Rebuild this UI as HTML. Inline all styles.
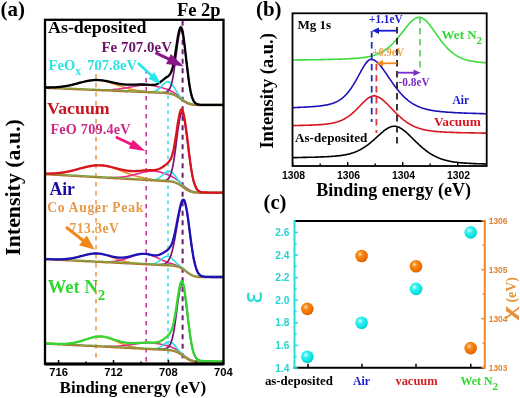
<!DOCTYPE html>
<html><head><meta charset="utf-8"><style>html,body{margin:0;padding:0;background:#fff;}svg{display:block}</style></head>
<body>
<svg width="520" height="398" viewBox="0 0 520 398">
<rect width="520" height="398" fill="#fff"/>
<defs><radialGradient id="go" cx="0.38" cy="0.35" r="0.7"><stop offset="0" stop-color="#ffe2c0"/><stop offset="0.3" stop-color="#f88a14"/><stop offset="0.8" stop-color="#ec6c00"/><stop offset="1" stop-color="#c85800"/></radialGradient><radialGradient id="gc" cx="0.38" cy="0.35" r="0.7"><stop offset="0" stop-color="#e0ffff"/><stop offset="0.3" stop-color="#3cf0f0"/><stop offset="0.8" stop-color="#00e0e0"/><stop offset="1" stop-color="#00c0c0"/></radialGradient></defs>
<line x1="96.00" y1="65.00" x2="96.00" y2="363.00" stroke="#e8923a" stroke-width="1.4" stroke-dasharray="4.5,4.5"/>
<line x1="146.20" y1="69.00" x2="146.20" y2="363.00" stroke="#c8379a" stroke-width="1.6" stroke-dasharray="4.5,4.5"/>
<line x1="168.00" y1="88.00" x2="168.00" y2="363.00" stroke="#40dede" stroke-width="1.6" stroke-dasharray="3.5,4"/>
<line x1="182.60" y1="20.80" x2="182.60" y2="363.00" stroke="#6a1a6a" stroke-width="2.0" stroke-dasharray="5,4.5"/>
<path d="M46.0,87.5 46.7,87.5 47.4,87.5 48.1,87.5 48.8,87.5 49.5,87.5 50.3,87.5 51.0,87.4 51.7,87.4 52.4,87.4 53.1,87.4 53.8,87.4 54.5,87.3 55.2,87.3 55.9,87.2 56.6,87.2 57.3,87.1 58.1,87.1 58.8,87.0 59.5,87.0 60.2,86.9 60.9,86.8 61.6,86.7 62.3,86.6 63.0,86.5 63.7,86.4 64.4,86.3 65.1,86.2 65.8,86.1 66.6,86.0 67.3,85.8 68.0,85.7 68.7,85.6 69.4,85.4 70.1,85.3 70.8,85.1 71.5,84.9 72.2,84.8 72.9,84.6 73.6,84.4 74.4,84.2 75.1,84.1 75.8,83.9 76.5,83.7 77.2,83.5 77.9,83.3 78.6,83.1 79.3,82.9 80.0,82.7 80.7,82.6 81.4,82.4 82.2,82.2 82.9,82.0 83.6,81.8 84.3,81.7 85.0,81.5 85.7,81.3 86.4,81.2 87.1,81.0 87.8,80.9 88.5,80.8 89.2,80.7 89.9,80.6 90.7,80.5 91.4,80.4 92.1,80.3 92.8,80.2 93.5,80.2 94.2,80.1 94.9,80.1 95.6,80.1 96.3,80.1 97.0,80.1 97.7,80.2 98.5,80.2 99.2,80.2 99.9,80.3 100.6,80.4 101.3,80.5 102.0,80.6 102.7,80.7 103.4,80.8 104.1,81.0 104.8,81.1 105.5,81.3 106.3,81.5 107.0,81.7 107.7,81.8 108.4,82.0 109.1,82.3 109.8,82.5 110.5,82.7 111.2,82.9 111.9,83.2 112.6,83.4 113.3,83.6 114.0,83.9 114.8,84.1 115.5,84.4 116.2,84.6 116.9,84.9 117.6,85.1 118.3,85.4 119.0,85.6 119.7,85.9 120.4,86.1 121.1,86.3 121.8,86.6 122.6,86.8 123.3,87.0 124.0,87.3 124.7,87.5 125.4,87.7 126.1,87.9 126.8,88.1 127.5,88.3 128.2,88.5 128.9,88.7 129.6,88.9 130.4,89.1 131.1,89.2 131.8,89.4 132.5,89.5 133.2,89.7 133.9,89.8 134.6,90.0 135.3,90.1 136.0,90.2 136.7,90.4 137.4,90.5 138.1,90.6 138.9,90.7 139.6,90.8 140.3,90.9 141.0,91.0 141.7,91.1 142.4,91.2 143.1,91.3 143.8,91.3 144.5,91.4 145.2,91.5 145.9,91.6 146.7,91.6 147.4,91.7 148.1,91.8 148.8,91.8 149.5,91.9" fill="none" stroke="#f08a1e" stroke-width="1.6" stroke-linejoin="round" stroke-linecap="round" />
<path d="M102.0,89.9 102.7,89.9 103.4,89.9 104.1,89.9 104.8,89.9 105.5,89.9 106.3,89.9 107.0,89.8 107.7,89.8 108.4,89.8 109.1,89.8 109.8,89.8 110.5,89.7 111.2,89.7 111.9,89.7 112.6,89.6 113.3,89.6 114.0,89.5 114.8,89.4 115.5,89.4 116.2,89.3 116.9,89.2 117.6,89.2 118.3,89.1 119.0,89.0 119.7,88.9 120.4,88.8 121.1,88.7 121.8,88.6 122.6,88.5 123.3,88.3 124.0,88.2 124.7,88.1 125.4,88.0 126.1,87.8 126.8,87.7 127.5,87.6 128.2,87.4 128.9,87.3 129.6,87.1 130.4,87.0 131.1,86.9 131.8,86.7 132.5,86.6 133.2,86.4 133.9,86.3 134.6,86.2 135.3,86.1 136.0,85.9 136.7,85.8 137.4,85.7 138.1,85.6 138.9,85.5 139.6,85.4 140.3,85.3 141.0,85.3 141.7,85.2 142.4,85.1 143.1,85.1 143.8,85.1 144.5,85.0 145.2,85.0 145.9,85.0 146.7,85.1 147.4,85.1 148.1,85.1 148.8,85.2 149.5,85.2 150.2,85.3 150.9,85.4 151.6,85.5 152.3,85.6 153.0,85.7 153.7,85.8 154.5,85.9 155.2,86.1 155.9,86.2 156.6,86.4 157.3,86.5 158.0,86.7 158.7,86.9 159.4,87.1 160.1,87.2 160.8,87.4 161.5,87.6 162.2,87.8 163.0,88.1 163.7,88.3 164.4,88.5 165.1,88.7 165.8,88.9 166.5,89.2 167.2,89.4 167.9,89.7 168.6,90.0 169.3,90.2 170.0,90.5 170.8,90.9 171.5,91.2 172.2,91.6 172.9,92.0 173.6,92.4 174.3,92.8 175.0,93.3 175.7,93.8 176.4,94.3 177.1,94.8 177.8,95.4 178.6,96.0 179.3,96.5 180.0,97.1 180.7,97.7 181.4,98.3 182.1,98.9 182.8,99.5 183.5,100.0 184.2,100.6 184.9,101.1 185.6,101.5 186.3,101.9 187.1,102.3 187.8,102.7 188.5,103.0 189.2,103.3 189.9,103.6 190.6,103.8 191.3,104.0 192.0,104.2 192.7,104.3" fill="none" stroke="#e62a8c" stroke-width="1.6" stroke-linejoin="round" stroke-linecap="round" />
<path d="M150.9,91.9 151.6,91.9 152.3,91.8 153.0,91.7 153.7,91.5 154.5,91.3 155.2,91.1 155.9,90.8 156.6,90.5 157.3,90.0 158.0,89.5 158.7,89.0 159.4,88.4 160.1,87.7 160.8,87.0 161.5,86.3 162.2,85.5 163.0,84.8 163.7,84.1 164.4,83.5 165.1,82.9 165.8,82.4 166.5,82.1 167.2,81.9 167.9,81.8 168.6,81.9 169.3,82.2 170.0,82.7 170.8,83.2 171.5,83.9 172.2,84.8 172.9,85.7 173.6,86.7 174.3,87.8 175.0,88.9 175.7,90.1 176.4,91.2 177.1,92.3 177.8,93.4 178.6,94.5 179.3,95.5 180.0,96.4 180.7,97.3 181.4,98.1 182.1,98.9 182.8,99.6 183.5,100.3 184.2,100.9 184.9,101.4 185.6,101.9" fill="none" stroke="#2ee3e3" stroke-width="1.6" stroke-linejoin="round" stroke-linecap="round" />
<path d="M163.7,92.5 164.4,92.5 165.1,92.4 165.8,92.3 166.5,92.0 167.2,91.7 167.9,91.2 168.6,90.4 169.3,89.4 170.0,88.0 170.8,86.2 171.5,83.9 172.2,81.0 172.9,77.6 173.6,73.5 174.3,68.9 175.0,63.8 175.7,58.4 176.4,52.8 177.1,47.3 177.8,42.1 178.6,37.5 179.3,33.8 180.0,31.2 180.7,29.9 181.4,30.0 182.1,31.5 182.8,34.2 183.5,38.1 184.2,43.0 184.9,48.6 185.6,54.7 186.3,60.9 187.1,67.1 187.8,73.1 188.5,78.6 189.2,83.5 189.9,87.9 190.6,91.6 191.3,94.7 192.0,97.2 192.7,99.2 193.4,100.7 194.1,101.9 194.9,102.8 195.6,103.4 196.3,103.9 197.0,104.2 197.7,104.5 198.4,104.6 199.1,104.7" fill="none" stroke="#7c127c" stroke-width="1.7" stroke-linejoin="round" stroke-linecap="round" />
<path d="M46.0,88.3 46.7,88.4 47.4,88.4 48.1,88.4 48.8,88.5 49.5,88.5 50.3,88.5 51.0,88.6 51.7,88.6 52.4,88.6 53.1,88.6 53.8,88.7 54.5,88.7 55.2,88.7 55.9,88.8 56.6,88.8 57.3,88.8 58.1,88.9 58.8,88.9 59.5,88.9 60.2,88.9 60.9,89.0 61.6,89.0 62.3,89.0 63.0,89.1 63.7,89.1 64.4,89.1 65.1,89.2 65.8,89.2 66.6,89.2 67.3,89.2 68.0,89.3 68.7,89.3 69.4,89.3 70.1,89.4 70.8,89.4 71.5,89.4 72.2,89.5 72.9,89.5 73.6,89.5 74.4,89.5 75.1,89.6 75.8,89.6 76.5,89.6 77.2,89.7 77.9,89.7 78.6,89.7 79.3,89.8 80.0,89.8 80.7,89.8 81.4,89.8 82.2,89.9 82.9,89.9 83.6,89.9 84.3,90.0 85.0,90.0 85.7,90.0 86.4,90.1 87.1,90.1 87.8,90.1 88.5,90.1 89.2,90.2 89.9,90.2 90.7,90.2 91.4,90.3 92.1,90.3 92.8,90.3 93.5,90.3 94.2,90.4 94.9,90.4 95.6,90.4 96.3,90.5 97.0,90.5 97.7,90.5 98.5,90.6 99.2,90.6 99.9,90.6 100.6,90.6 101.3,90.7 102.0,90.7 102.7,90.7 103.4,90.8 104.1,90.8 104.8,90.8 105.5,90.9 106.3,90.9 107.0,90.9 107.7,90.9 108.4,91.0 109.1,91.0 109.8,91.0 110.5,91.1 111.2,91.1 111.9,91.1 112.6,91.2 113.3,91.2 114.0,91.2 114.8,91.2 115.5,91.3 116.2,91.3 116.9,91.3 117.6,91.4 118.3,91.4 119.0,91.4 119.7,91.5 120.4,91.5 121.1,91.5 121.8,91.5 122.6,91.6 123.3,91.6 124.0,91.6 124.7,91.7 125.4,91.7 126.1,91.7 126.8,91.8 127.5,91.8 128.2,91.8 128.9,91.8 129.6,91.9 130.4,91.9 131.1,91.9 131.8,92.0 132.5,92.0 133.2,92.0 133.9,92.1 134.6,92.1 135.3,92.1 136.0,92.1 136.7,92.2 137.4,92.2 138.1,92.2 138.9,92.3 139.6,92.3 140.3,92.3 141.0,92.4 141.7,92.4 142.4,92.4 143.1,92.4 143.8,92.5 144.5,92.5 145.2,92.5 145.9,92.6 146.7,92.6 147.4,92.6 148.1,92.7 148.8,92.7 149.5,92.7 150.2,92.7 150.9,92.8 151.6,92.8 152.3,92.8 153.0,92.9 153.7,92.9 154.5,92.9 155.2,93.0 155.9,93.0 156.6,93.0 157.3,93.0 158.0,93.1 158.7,93.1 159.4,93.1 160.1,93.2 160.8,93.2 161.5,93.2 162.2,93.3 163.0,93.3 163.7,93.4 164.4,93.4 165.1,93.5 165.8,93.5 166.5,93.6 167.2,93.7 167.9,93.8 168.6,93.9 169.3,94.0 170.0,94.1 170.8,94.3 171.5,94.5 172.2,94.7 172.9,94.9 173.6,95.2 174.3,95.5 175.0,95.9 175.7,96.2 176.4,96.6 177.1,97.0 177.8,97.5 178.6,98.0 179.3,98.4 180.0,98.9 180.7,99.5 181.4,100.0 182.1,100.5 182.8,101.0 183.5,101.4 184.2,101.9 184.9,102.3 185.6,102.7 186.3,103.1 187.1,103.5 187.8,103.8 188.5,104.1 189.2,104.3 189.9,104.5 190.6,104.7 191.3,104.9 192.0,105.0 192.7,105.1 193.4,105.2 194.1,105.3 194.9,105.4 195.6,105.4 196.3,105.4 197.0,105.5 197.7,105.5 198.4,105.5 199.1,105.5 199.8,105.5 200.5,105.5 201.2,105.6 201.9,105.6 202.7,105.6 203.4,105.6 204.1,105.6 204.8,105.6 205.5,105.6 206.2,105.6 206.9,105.6 207.6,105.6 208.3,105.6 209.0,105.6 209.7,105.6 210.4,105.6 211.2,105.6 211.9,105.6 212.6,105.6 213.3,105.6 214.0,105.6 214.7,105.6 215.4,105.6 216.1,105.6 216.8,105.6 217.5,105.6 218.2,105.6 219.0,105.6 219.7,105.6 220.4,105.6 221.1,105.6 221.8,105.6 222.5,105.6" fill="none" stroke="#b0762a" stroke-width="1.4" stroke-linejoin="round" stroke-linecap="round" />
<path d="M46.0,87.2 46.7,87.3 47.4,87.3 48.1,87.3 48.8,87.4 49.5,87.4 50.3,87.4 51.0,87.5 51.7,87.5 52.4,87.5 53.1,87.5 53.8,87.6 54.5,87.6 55.2,87.6 55.9,87.7 56.6,87.7 57.3,87.7 58.1,87.8 58.8,87.8 59.5,87.8 60.2,87.8 60.9,87.9 61.6,87.9 62.3,87.9 63.0,88.0 63.7,88.0 64.4,88.0 65.1,88.1 65.8,88.1 66.6,88.1 67.3,88.1 68.0,88.2 68.7,88.2 69.4,88.2 70.1,88.3 70.8,88.3 71.5,88.3 72.2,88.4 72.9,88.4 73.6,88.4 74.4,88.4 75.1,88.5 75.8,88.5 76.5,88.5 77.2,88.6 77.9,88.6 78.6,88.6 79.3,88.7 80.0,88.7 80.7,88.7 81.4,88.7 82.2,88.8 82.9,88.8 83.6,88.8 84.3,88.9 85.0,88.9 85.7,88.9 86.4,89.0 87.1,89.0 87.8,89.0 88.5,89.0 89.2,89.1 89.9,89.1 90.7,89.1 91.4,89.2 92.1,89.2 92.8,89.2 93.5,89.2 94.2,89.3 94.9,89.3 95.6,89.3 96.3,89.4 97.0,89.4 97.7,89.4 98.5,89.5 99.2,89.5 99.9,89.5 100.6,89.5 101.3,89.6 102.0,89.6 102.7,89.6 103.4,89.7 104.1,89.7 104.8,89.7 105.5,89.8 106.3,89.8 107.0,89.8 107.7,89.8 108.4,89.9 109.1,89.9 109.8,89.9 110.5,90.0 111.2,90.0 111.9,90.0 112.6,90.1 113.3,90.1 114.0,90.1 114.8,90.1 115.5,90.2 116.2,90.2 116.9,90.2 117.6,90.3 118.3,90.3 119.0,90.3 119.7,90.4 120.4,90.4 121.1,90.4 121.8,90.4 122.6,90.5 123.3,90.5 124.0,90.5 124.7,90.6 125.4,90.6 126.1,90.6 126.8,90.7 127.5,90.7 128.2,90.7 128.9,90.7 129.6,90.8 130.4,90.8 131.1,90.8 131.8,90.9 132.5,90.9 133.2,90.9 133.9,91.0 134.6,91.0 135.3,91.0 136.0,91.0 136.7,91.1 137.4,91.1 138.1,91.1 138.9,91.2 139.6,91.2 140.3,91.2 141.0,91.3 141.7,91.3 142.4,91.3 143.1,91.3 143.8,91.4 144.5,91.4 145.2,91.4 145.9,91.5 146.7,91.5 147.4,91.5 148.1,91.6 148.8,91.6 149.5,91.6 150.2,91.6 150.9,91.7 151.6,91.7 152.3,91.7 153.0,91.8 153.7,91.8 154.5,91.8 155.2,91.9 155.9,91.9 156.6,91.9 157.3,91.9 158.0,92.0 158.7,92.0 159.4,92.0 160.1,92.1 160.8,92.1 161.5,92.1 162.2,92.2 163.0,92.2 163.7,92.3 164.4,92.3 165.1,92.4 165.8,92.4 166.5,92.5 167.2,92.6 167.9,92.7 168.6,92.8 169.3,92.9 170.0,93.0 170.8,93.2 171.5,93.4 172.2,93.6 172.9,93.8 173.6,94.1 174.3,94.4 175.0,94.8 175.7,95.1 176.4,95.5 177.1,95.9 177.8,96.4 178.6,96.9 179.3,97.3 180.0,97.8 180.7,98.4 181.4,98.9 182.1,99.4 182.8,99.9 183.5,100.3 184.2,100.8 184.9,101.2 185.6,101.6 186.3,102.0 187.1,102.4 187.8,102.7 188.5,103.0 189.2,103.2 189.9,103.4 190.6,103.6 191.3,103.8 192.0,103.9 192.7,104.0 193.4,104.1 194.1,104.2 194.9,104.3 195.6,104.3 196.3,104.3 197.0,104.4 197.7,104.4 198.4,104.4 199.1,104.4 199.8,104.4 200.5,104.4 201.2,104.5 201.9,104.5 202.7,104.5 203.4,104.5 204.1,104.5 204.8,104.5 205.5,104.5 206.2,104.5 206.9,104.5 207.6,104.5 208.3,104.5 209.0,104.5 209.7,104.5 210.4,104.5 211.2,104.5 211.9,104.5 212.6,104.5 213.3,104.5 214.0,104.5 214.7,104.5 215.4,104.5 216.1,104.5 216.8,104.5 217.5,104.5 218.2,104.5 219.0,104.5 219.7,104.5 220.4,104.5 221.1,104.5 221.8,104.5 222.5,104.5" fill="none" stroke="#7fa040" stroke-width="1.4" stroke-linejoin="round" stroke-linecap="round" />
<path d="M46.0,87.5 46.7,87.5 47.4,87.5 48.1,87.5 48.8,87.5 49.5,87.5 50.3,87.5 51.0,87.4 51.7,87.4 52.4,87.4 53.1,87.4 53.8,87.3 54.5,87.3 55.2,87.3 55.9,87.2 56.6,87.2 57.3,87.1 58.1,87.1 58.8,87.0 59.5,87.0 60.2,86.9 60.9,86.8 61.6,86.7 62.3,86.6 63.0,86.5 63.7,86.4 64.4,86.3 65.1,86.2 65.8,86.1 66.6,86.0 67.3,85.8 68.0,85.7 68.7,85.6 69.4,85.4 70.1,85.3 70.8,85.1 71.5,84.9 72.2,84.8 72.9,84.6 73.6,84.4 74.4,84.2 75.1,84.1 75.8,83.9 76.5,83.7 77.2,83.5 77.9,83.3 78.6,83.1 79.3,82.9 80.0,82.7 80.7,82.5 81.4,82.4 82.2,82.2 82.9,82.0 83.6,81.8 84.3,81.7 85.0,81.5 85.7,81.3 86.4,81.2 87.1,81.0 87.8,80.9 88.5,80.8 89.2,80.6 89.9,80.5 90.7,80.4 91.4,80.3 92.1,80.3 92.8,80.2 93.5,80.1 94.2,80.1 94.9,80.0 95.6,80.0 96.3,80.0 97.0,80.0 97.7,80.0 98.5,80.1 99.2,80.1 99.9,80.1 100.6,80.2 101.3,80.3 102.0,80.4 102.7,80.4 103.4,80.5 104.1,80.7 104.8,80.8 105.5,80.9 106.3,81.0 107.0,81.2 107.7,81.3 108.4,81.5 109.1,81.6 109.8,81.8 110.5,81.9 111.2,82.1 111.9,82.3 112.6,82.4 113.3,82.6 114.0,82.8 114.8,82.9 115.5,83.1 116.2,83.2 116.9,83.4 117.6,83.5 118.3,83.6 119.0,83.8 119.7,83.9 120.4,84.0 121.1,84.1 121.8,84.2 122.6,84.3 123.3,84.4 124.0,84.4 124.7,84.5 125.4,84.6 126.1,84.6 126.8,84.6 127.5,84.7 128.2,84.7 128.9,84.7 129.6,84.7 130.4,84.7 131.1,84.7 131.8,84.7 132.5,84.7 133.2,84.7 133.9,84.7 134.6,84.7 135.3,84.6 136.0,84.6 136.7,84.6 137.4,84.6 138.1,84.5 138.9,84.5 139.6,84.5 140.3,84.5 141.0,84.5 141.7,84.5 142.4,84.5 143.1,84.5 143.8,84.5 144.5,84.5 145.2,84.6 145.9,84.6 146.7,84.6 147.4,84.7 148.1,84.7 148.8,84.8 149.5,84.8 150.2,84.9 150.9,84.9 151.6,84.9 152.3,84.9 153.0,84.9 153.7,84.9 154.5,84.8 155.2,84.7 155.9,84.5 156.6,84.3 157.3,84.0 158.0,83.6 158.7,83.2 159.4,82.8 160.1,82.3 160.8,81.7 161.5,81.1 162.2,80.6 163.0,80.0 163.7,79.4 164.4,78.8 165.1,78.3 165.8,77.8 166.5,77.3 167.2,76.8 167.9,76.4 168.6,75.8 169.3,75.1 170.0,74.1 170.8,72.9 171.5,71.3 172.2,69.2 172.9,66.6 173.6,63.4 174.3,59.7 175.0,55.5 175.7,51.0 176.4,46.3 177.1,41.6 177.8,37.1 178.6,33.2 179.3,30.1 180.0,28.1 180.7,27.2 181.4,27.7 182.1,29.5 182.8,32.6 183.5,36.8 184.2,41.9 184.9,47.6 185.6,53.8 186.3,60.2 187.1,66.5 187.8,72.5 188.5,78.1 189.2,83.1 189.9,87.5 190.6,91.2 191.3,94.4 192.0,96.9 192.7,98.9 193.4,100.5 194.1,101.7 194.9,102.6 195.6,103.3 196.3,103.8 197.0,104.1 197.7,104.3 198.4,104.5 199.1,104.6 199.8,104.7 200.5,104.8 201.2,104.8 201.9,104.8 202.7,104.8 203.4,104.9 204.1,104.9 204.8,104.9 205.5,104.9 206.2,104.9 206.9,104.9 207.6,104.9 208.3,104.9 209.0,104.9 209.7,104.9 210.4,104.9 211.2,104.9 211.9,104.9 212.6,104.9 213.3,104.9 214.0,104.9 214.7,104.9 215.4,104.9 216.1,104.9 216.8,104.9 217.5,104.9 218.2,104.9 219.0,104.9 219.7,104.9 220.4,104.9 221.1,104.9 221.8,104.9 222.5,104.9" fill="none" stroke="#000000" stroke-width="2.3" stroke-linejoin="round" stroke-linecap="round" />
<path d="M46.0,173.6 46.7,173.6 47.4,173.6 48.1,173.6 48.8,173.6 49.5,173.6 50.3,173.6 51.0,173.6 51.7,173.5 52.4,173.5 53.1,173.5 53.8,173.4 54.5,173.4 55.2,173.3 55.9,173.3 56.6,173.2 57.3,173.2 58.1,173.1 58.8,173.0 59.5,173.0 60.2,172.9 60.9,172.8 61.6,172.7 62.3,172.6 63.0,172.5 63.7,172.4 64.4,172.3 65.1,172.1 65.8,172.0 66.6,171.9 67.3,171.7 68.0,171.6 68.7,171.4 69.4,171.3 70.1,171.1 70.8,171.0 71.5,170.8 72.2,170.6 72.9,170.4 73.6,170.3 74.4,170.1 75.1,169.9 75.8,169.7 76.5,169.5 77.2,169.3 77.9,169.1 78.6,168.9 79.3,168.7 80.0,168.5 80.7,168.3 81.4,168.1 82.2,168.0 82.9,167.8 83.6,167.6 84.3,167.4 85.0,167.2 85.7,167.0 86.4,166.9 87.1,166.7 87.8,166.6 88.5,166.4 89.2,166.3 89.9,166.1 90.7,166.0 91.4,165.9 92.1,165.8 92.8,165.7 93.5,165.6 94.2,165.5 94.9,165.5 95.6,165.4 96.3,165.4 97.0,165.3 97.7,165.3 98.5,165.3 99.2,165.3 99.9,165.3 100.6,165.4 101.3,165.4 102.0,165.5 102.7,165.5 103.4,165.6 104.1,165.7 104.8,165.8 105.5,165.9 106.3,166.1 107.0,166.2 107.7,166.4 108.4,166.5 109.1,166.7 109.8,166.9 110.5,167.1 111.2,167.3 111.9,167.5 112.6,167.7 113.3,168.0 114.0,168.2 114.8,168.4 115.5,168.7 116.2,168.9 116.9,169.2 117.6,169.5 118.3,169.7 119.0,170.0 119.7,170.3 120.4,170.5 121.1,170.8 121.8,171.1 122.6,171.4 123.3,171.7 124.0,171.9 124.7,172.2 125.4,172.5 126.1,172.7 126.8,173.0 127.5,173.3 128.2,173.5 128.9,173.8 129.6,174.1 130.4,174.3 131.1,174.5 131.8,174.8 132.5,175.0 133.2,175.3 133.9,175.5 134.6,175.7 135.3,175.9 136.0,176.1 136.7,176.3 137.4,176.5 138.1,176.7 138.9,176.9 139.6,177.1 140.3,177.3 141.0,177.4 141.7,177.6 142.4,177.8 143.1,177.9 143.8,178.1 144.5,178.2 145.2,178.4 145.9,178.5 146.7,178.6 147.4,178.7 148.1,178.9 148.8,179.0 149.5,179.1 150.2,179.2 150.9,179.3 151.6,179.4 152.3,179.5 153.0,179.6 153.7,179.7 154.5,179.8 155.2,179.8 155.9,179.9 156.6,180.0 157.3,180.1 158.0,180.1 158.7,180.2 159.4,180.3 160.1,180.3 160.8,180.4" fill="none" stroke="#f08a1e" stroke-width="1.6" stroke-linejoin="round" stroke-linecap="round" />
<path d="M109.1,177.5 109.8,177.5 110.5,177.5 111.2,177.5 111.9,177.5 112.6,177.5 113.3,177.5 114.0,177.5 114.8,177.5 115.5,177.5 116.2,177.4 116.9,177.4 117.6,177.4 118.3,177.3 119.0,177.3 119.7,177.2 120.4,177.2 121.1,177.1 121.8,177.0 122.6,177.0 123.3,176.9 124.0,176.8 124.7,176.7 125.4,176.6 126.1,176.5 126.8,176.3 127.5,176.2 128.2,176.1 128.9,175.9 129.6,175.8 130.4,175.6 131.1,175.4 131.8,175.3 132.5,175.1 133.2,174.9 133.9,174.7 134.6,174.5 135.3,174.3 136.0,174.1 136.7,174.0 137.4,173.8 138.1,173.6 138.9,173.4 139.6,173.2 140.3,173.0 141.0,172.8 141.7,172.6 142.4,172.4 143.1,172.3 143.8,172.1 144.5,172.0 145.2,171.8 145.9,171.7 146.7,171.6 147.4,171.4 148.1,171.4 148.8,171.3 149.5,171.2 150.2,171.2 150.9,171.1 151.6,171.1 152.3,171.1 153.0,171.1 153.7,171.1 154.5,171.2 155.2,171.2 155.9,171.3 156.6,171.4 157.3,171.5 158.0,171.7 158.7,171.8 159.4,172.0 160.1,172.1 160.8,172.3 161.5,172.5 162.2,172.7 163.0,172.9 163.7,173.2 164.4,173.4 165.1,173.7 165.8,173.9 166.5,174.2 167.2,174.5 167.9,174.8 168.6,175.1 169.3,175.4 170.0,175.7 170.8,176.0 171.5,176.3 172.2,176.7 172.9,177.1 173.6,177.5 174.3,177.9 175.0,178.3 175.7,178.8 176.4,179.3 177.1,179.8 177.8,180.3 178.6,180.9 179.3,181.5 180.0,182.1 180.7,182.8 181.4,183.5 182.1,184.1 182.8,184.8 183.5,185.5 184.2,186.1 184.9,186.8 185.6,187.4 186.3,188.0 187.1,188.5 187.8,189.0 188.5,189.5 189.2,189.9 189.9,190.3 190.6,190.6 191.3,190.9 192.0,191.2 192.7,191.4 193.4,191.6 194.1,191.8 194.9,191.9 195.6,192.0 196.3,192.1 197.0,192.2 197.7,192.2 198.4,192.3" fill="none" stroke="#e62a8c" stroke-width="1.6" stroke-linejoin="round" stroke-linecap="round" />
<path d="M152.3,179.9 153.0,179.9 153.7,179.8 154.5,179.7 155.2,179.6 155.9,179.4 156.6,179.2 157.3,178.9 158.0,178.6 158.7,178.2 159.4,177.7 160.1,177.2 160.8,176.7 161.5,176.1 162.2,175.5 163.0,174.8 163.7,174.2 164.4,173.5 165.1,172.9 165.8,172.4 166.5,171.9 167.2,171.6 167.9,171.3 168.6,171.2 169.3,171.2 170.0,171.3 170.8,171.6 171.5,172.0 172.2,172.5 172.9,173.1 173.6,173.9 174.3,174.7 175.0,175.6 175.7,176.5 176.4,177.5 177.1,178.5 177.8,179.5 178.6,180.4 179.3,181.4 180.0,182.3 180.7,183.3 181.4,184.1 182.1,185.0 182.8,185.8 183.5,186.5 184.2,187.2 184.9,187.9 185.6,188.5 186.3,189.0 187.1,189.6" fill="none" stroke="#2ee3e3" stroke-width="1.6" stroke-linejoin="round" stroke-linecap="round" />
<path d="M163.7,180.7 164.4,180.6 165.1,180.5 165.8,180.3 166.5,180.1 167.2,179.7 167.9,179.1 168.6,178.3 169.3,177.3 170.0,175.9 170.8,174.1 171.5,171.8 172.2,169.1 172.9,165.8 173.6,161.9 174.3,157.5 175.0,152.6 175.7,147.3 176.4,141.8 177.1,136.2 177.8,130.7 178.6,125.6 179.3,121.0 180.0,117.3 180.7,114.6 181.4,113.1 182.1,112.9 182.8,113.9 183.5,116.0 184.2,119.0 184.9,122.9 185.6,127.5 186.3,132.6 187.1,138.1 187.8,143.8 188.5,149.6 189.2,155.2 189.9,160.5 190.6,165.5 191.3,170.0 192.0,174.0 192.7,177.6 193.4,180.6 194.1,183.2 194.9,185.3 195.6,187.0 196.3,188.4 197.0,189.5 197.7,190.3 198.4,191.0 199.1,191.4 199.8,191.8 200.5,192.0 201.2,192.2 201.9,192.3" fill="none" stroke="#7c127c" stroke-width="1.7" stroke-linejoin="round" stroke-linecap="round" />
<path d="M46.0,174.7 46.7,174.8 47.4,174.8 48.1,174.8 48.8,174.9 49.5,174.9 50.3,175.0 51.0,175.0 51.7,175.0 52.4,175.1 53.1,175.1 53.8,175.2 54.5,175.2 55.2,175.2 55.9,175.3 56.6,175.3 57.3,175.4 58.1,175.4 58.8,175.4 59.5,175.5 60.2,175.5 60.9,175.6 61.6,175.6 62.3,175.6 63.0,175.7 63.7,175.7 64.4,175.8 65.1,175.8 65.8,175.8 66.6,175.9 67.3,175.9 68.0,176.0 68.7,176.0 69.4,176.0 70.1,176.1 70.8,176.1 71.5,176.2 72.2,176.2 72.9,176.2 73.6,176.3 74.4,176.3 75.1,176.4 75.8,176.4 76.5,176.4 77.2,176.5 77.9,176.5 78.6,176.6 79.3,176.6 80.0,176.6 80.7,176.7 81.4,176.7 82.2,176.8 82.9,176.8 83.6,176.9 84.3,176.9 85.0,176.9 85.7,177.0 86.4,177.0 87.1,177.1 87.8,177.1 88.5,177.1 89.2,177.2 89.9,177.2 90.7,177.3 91.4,177.3 92.1,177.3 92.8,177.4 93.5,177.4 94.2,177.5 94.9,177.5 95.6,177.5 96.3,177.6 97.0,177.6 97.7,177.7 98.5,177.7 99.2,177.7 99.9,177.8 100.6,177.8 101.3,177.9 102.0,177.9 102.7,177.9 103.4,178.0 104.1,178.0 104.8,178.1 105.5,178.1 106.3,178.1 107.0,178.2 107.7,178.2 108.4,178.3 109.1,178.3 109.8,178.3 110.5,178.4 111.2,178.4 111.9,178.5 112.6,178.5 113.3,178.5 114.0,178.6 114.8,178.6 115.5,178.7 116.2,178.7 116.9,178.8 117.6,178.8 118.3,178.8 119.0,178.9 119.7,178.9 120.4,179.0 121.1,179.0 121.8,179.0 122.6,179.1 123.3,179.1 124.0,179.2 124.7,179.2 125.4,179.2 126.1,179.3 126.8,179.3 127.5,179.4 128.2,179.4 128.9,179.4 129.6,179.5 130.4,179.5 131.1,179.6 131.8,179.6 132.5,179.6 133.2,179.7 133.9,179.7 134.6,179.8 135.3,179.8 136.0,179.8 136.7,179.9 137.4,179.9 138.1,180.0 138.9,180.0 139.6,180.0 140.3,180.1 141.0,180.1 141.7,180.2 142.4,180.2 143.1,180.2 143.8,180.3 144.5,180.3 145.2,180.4 145.9,180.4 146.7,180.4 147.4,180.5 148.1,180.5 148.8,180.6 149.5,180.6 150.2,180.6 150.9,180.7 151.6,180.7 152.3,180.8 153.0,180.8 153.7,180.9 154.5,180.9 155.2,180.9 155.9,181.0 156.6,181.0 157.3,181.1 158.0,181.1 158.7,181.1 159.4,181.2 160.1,181.2 160.8,181.3 161.5,181.3 162.2,181.3 163.0,181.4 163.7,181.4 164.4,181.5 165.1,181.5 165.8,181.6 166.5,181.6 167.2,181.7 167.9,181.7 168.6,181.8 169.3,181.8 170.0,181.9 170.8,182.0 171.5,182.1 172.2,182.2 172.9,182.4 173.6,182.5 174.3,182.7 175.0,182.9 175.7,183.2 176.4,183.5 177.1,183.8 177.8,184.1 178.6,184.5 179.3,184.9 180.0,185.4 180.7,185.8 181.4,186.3 182.1,186.8 182.8,187.4 183.5,187.9 184.2,188.4 184.9,188.9 185.6,189.4 186.3,189.9 187.1,190.3 187.8,190.7 188.5,191.1 189.2,191.5 189.9,191.8 190.6,192.0 191.3,192.2 192.0,192.4 192.7,192.6 193.4,192.7 194.1,192.8 194.9,192.9 195.6,193.0 196.3,193.0 197.0,193.1 197.7,193.1 198.4,193.1 199.1,193.2 199.8,193.2 200.5,193.2 201.2,193.2 201.9,193.2 202.7,193.2 203.4,193.2 204.1,193.2 204.8,193.2 205.5,193.2 206.2,193.2 206.9,193.2 207.6,193.2 208.3,193.2 209.0,193.2 209.7,193.2 210.4,193.2 211.2,193.2 211.9,193.2 212.6,193.2 213.3,193.2 214.0,193.2 214.7,193.2 215.4,193.2 216.1,193.2 216.8,193.2 217.5,193.2 218.2,193.2 219.0,193.2 219.7,193.2 220.4,193.2 221.1,193.2 221.8,193.2 222.5,193.2" fill="none" stroke="#b0762a" stroke-width="1.4" stroke-linejoin="round" stroke-linecap="round" />
<path d="M46.0,173.6 46.7,173.7 47.4,173.7 48.1,173.7 48.8,173.8 49.5,173.8 50.3,173.9 51.0,173.9 51.7,173.9 52.4,174.0 53.1,174.0 53.8,174.1 54.5,174.1 55.2,174.1 55.9,174.2 56.6,174.2 57.3,174.3 58.1,174.3 58.8,174.3 59.5,174.4 60.2,174.4 60.9,174.5 61.6,174.5 62.3,174.5 63.0,174.6 63.7,174.6 64.4,174.7 65.1,174.7 65.8,174.7 66.6,174.8 67.3,174.8 68.0,174.9 68.7,174.9 69.4,174.9 70.1,175.0 70.8,175.0 71.5,175.1 72.2,175.1 72.9,175.1 73.6,175.2 74.4,175.2 75.1,175.3 75.8,175.3 76.5,175.3 77.2,175.4 77.9,175.4 78.6,175.5 79.3,175.5 80.0,175.5 80.7,175.6 81.4,175.6 82.2,175.7 82.9,175.7 83.6,175.8 84.3,175.8 85.0,175.8 85.7,175.9 86.4,175.9 87.1,176.0 87.8,176.0 88.5,176.0 89.2,176.1 89.9,176.1 90.7,176.2 91.4,176.2 92.1,176.2 92.8,176.3 93.5,176.3 94.2,176.4 94.9,176.4 95.6,176.4 96.3,176.5 97.0,176.5 97.7,176.6 98.5,176.6 99.2,176.6 99.9,176.7 100.6,176.7 101.3,176.8 102.0,176.8 102.7,176.8 103.4,176.9 104.1,176.9 104.8,177.0 105.5,177.0 106.3,177.0 107.0,177.1 107.7,177.1 108.4,177.2 109.1,177.2 109.8,177.2 110.5,177.3 111.2,177.3 111.9,177.4 112.6,177.4 113.3,177.4 114.0,177.5 114.8,177.5 115.5,177.6 116.2,177.6 116.9,177.7 117.6,177.7 118.3,177.7 119.0,177.8 119.7,177.8 120.4,177.9 121.1,177.9 121.8,177.9 122.6,178.0 123.3,178.0 124.0,178.1 124.7,178.1 125.4,178.1 126.1,178.2 126.8,178.2 127.5,178.3 128.2,178.3 128.9,178.3 129.6,178.4 130.4,178.4 131.1,178.5 131.8,178.5 132.5,178.5 133.2,178.6 133.9,178.6 134.6,178.7 135.3,178.7 136.0,178.7 136.7,178.8 137.4,178.8 138.1,178.9 138.9,178.9 139.6,178.9 140.3,179.0 141.0,179.0 141.7,179.1 142.4,179.1 143.1,179.1 143.8,179.2 144.5,179.2 145.2,179.3 145.9,179.3 146.7,179.3 147.4,179.4 148.1,179.4 148.8,179.5 149.5,179.5 150.2,179.5 150.9,179.6 151.6,179.6 152.3,179.7 153.0,179.7 153.7,179.8 154.5,179.8 155.2,179.8 155.9,179.9 156.6,179.9 157.3,180.0 158.0,180.0 158.7,180.0 159.4,180.1 160.1,180.1 160.8,180.2 161.5,180.2 162.2,180.2 163.0,180.3 163.7,180.3 164.4,180.4 165.1,180.4 165.8,180.5 166.5,180.5 167.2,180.6 167.9,180.6 168.6,180.7 169.3,180.7 170.0,180.8 170.8,180.9 171.5,181.0 172.2,181.1 172.9,181.3 173.6,181.4 174.3,181.6 175.0,181.8 175.7,182.1 176.4,182.4 177.1,182.7 177.8,183.0 178.6,183.4 179.3,183.8 180.0,184.3 180.7,184.7 181.4,185.2 182.1,185.7 182.8,186.3 183.5,186.8 184.2,187.3 184.9,187.8 185.6,188.3 186.3,188.8 187.1,189.2 187.8,189.6 188.5,190.0 189.2,190.4 189.9,190.7 190.6,190.9 191.3,191.1 192.0,191.3 192.7,191.5 193.4,191.6 194.1,191.7 194.9,191.8 195.6,191.9 196.3,191.9 197.0,192.0 197.7,192.0 198.4,192.0 199.1,192.1 199.8,192.1 200.5,192.1 201.2,192.1 201.9,192.1 202.7,192.1 203.4,192.1 204.1,192.1 204.8,192.1 205.5,192.1 206.2,192.1 206.9,192.1 207.6,192.1 208.3,192.1 209.0,192.1 209.7,192.1 210.4,192.1 211.2,192.1 211.9,192.1 212.6,192.1 213.3,192.1 214.0,192.1 214.7,192.1 215.4,192.1 216.1,192.1 216.8,192.1 217.5,192.1 218.2,192.1 219.0,192.1 219.7,192.1 220.4,192.1 221.1,192.1 221.8,192.1 222.5,192.1" fill="none" stroke="#7fa040" stroke-width="1.4" stroke-linejoin="round" stroke-linecap="round" />
<path d="M46.0,173.6 46.7,173.6 47.4,173.6 48.1,173.6 48.8,173.6 49.5,173.6 50.3,173.6 51.0,173.6 51.7,173.5 52.4,173.5 53.1,173.5 53.8,173.4 54.5,173.4 55.2,173.3 55.9,173.3 56.6,173.2 57.3,173.2 58.1,173.1 58.8,173.0 59.5,173.0 60.2,172.9 60.9,172.8 61.6,172.7 62.3,172.6 63.0,172.5 63.7,172.4 64.4,172.3 65.1,172.1 65.8,172.0 66.6,171.9 67.3,171.7 68.0,171.6 68.7,171.4 69.4,171.3 70.1,171.1 70.8,171.0 71.5,170.8 72.2,170.6 72.9,170.4 73.6,170.3 74.4,170.1 75.1,169.9 75.8,169.7 76.5,169.5 77.2,169.3 77.9,169.1 78.6,168.9 79.3,168.7 80.0,168.5 80.7,168.3 81.4,168.1 82.2,168.0 82.9,167.8 83.6,167.6 84.3,167.4 85.0,167.2 85.7,167.0 86.4,166.9 87.1,166.7 87.8,166.6 88.5,166.4 89.2,166.3 89.9,166.1 90.7,166.0 91.4,165.9 92.1,165.8 92.8,165.7 93.5,165.6 94.2,165.5 94.9,165.4 95.6,165.4 96.3,165.3 97.0,165.3 97.7,165.3 98.5,165.3 99.2,165.3 99.9,165.3 100.6,165.3 101.3,165.4 102.0,165.4 102.7,165.5 103.4,165.5 104.1,165.6 104.8,165.7 105.5,165.8 106.3,165.9 107.0,166.1 107.7,166.2 108.4,166.3 109.1,166.5 109.8,166.6 110.5,166.8 111.2,167.0 111.9,167.2 112.6,167.3 113.3,167.5 114.0,167.7 114.8,167.9 115.5,168.1 116.2,168.3 116.9,168.5 117.6,168.6 118.3,168.8 119.0,169.0 119.7,169.2 120.4,169.4 121.1,169.5 121.8,169.7 122.6,169.9 123.3,170.0 124.0,170.1 124.7,170.3 125.4,170.4 126.1,170.5 126.8,170.6 127.5,170.7 128.2,170.8 128.9,170.9 129.6,170.9 130.4,171.0 131.1,171.0 131.8,171.1 132.5,171.1 133.2,171.1 133.9,171.1 134.6,171.1 135.3,171.1 136.0,171.0 136.7,171.0 137.4,171.0 138.1,170.9 138.9,170.9 139.6,170.8 140.3,170.8 141.0,170.7 141.7,170.7 142.4,170.6 143.1,170.5 143.8,170.5 144.5,170.4 145.2,170.4 145.9,170.3 146.7,170.3 147.4,170.3 148.1,170.3 148.8,170.2 149.5,170.2 150.2,170.2 150.9,170.2 151.6,170.2 152.3,170.2 153.0,170.1 153.7,170.1 154.5,170.1 155.2,170.0 155.9,169.9 156.6,169.8 157.3,169.6 158.0,169.4 158.7,169.1 159.4,168.8 160.1,168.5 160.8,168.1 161.5,167.7 162.2,167.2 163.0,166.7 163.7,166.2 164.4,165.7 165.1,165.2 165.8,164.6 166.5,164.1 167.2,163.5 167.9,162.8 168.6,162.1 169.3,161.2 170.0,160.1 170.8,158.8 171.5,157.1 172.2,155.0 172.9,152.4 173.6,149.4 174.3,145.8 175.0,141.8 175.7,137.5 176.4,132.8 177.1,128.1 177.8,123.4 178.6,119.1 179.3,115.3 180.0,112.3 180.7,110.2 181.4,109.3 182.1,109.5 182.8,111.0 183.5,113.4 184.2,116.7 184.9,120.9 185.6,125.7 186.3,131.0 187.1,136.7 187.8,142.6 188.5,148.5 189.2,154.2 189.9,159.6 190.6,164.7 191.3,169.3 192.0,173.4 192.7,177.0 193.4,180.1 194.1,182.7 194.9,184.9 195.6,186.6 196.3,188.1 197.0,189.2 197.7,190.0 198.4,190.7 199.1,191.2 199.8,191.6 200.5,191.9 201.2,192.1 201.9,192.2 202.7,192.3 203.4,192.4 204.1,192.4 204.8,192.5 205.5,192.5 206.2,192.5 206.9,192.5 207.6,192.5 208.3,192.6 209.0,192.6 209.7,192.6 210.4,192.6 211.2,192.6 211.9,192.6 212.6,192.6 213.3,192.6 214.0,192.6 214.7,192.6 215.4,192.6 216.1,192.6 216.8,192.6 217.5,192.6 218.2,192.6 219.0,192.6 219.7,192.6 220.4,192.6 221.1,192.6 221.8,192.6 222.5,192.6" fill="none" stroke="#d8141e" stroke-width="2.3" stroke-linejoin="round" stroke-linecap="round" />
<path d="M55.9,259.3 56.6,259.3 57.3,259.4 58.1,259.4 58.8,259.3 59.5,259.3 60.2,259.3 60.9,259.3 61.6,259.3 62.3,259.3 63.0,259.2 63.7,259.2 64.4,259.2 65.1,259.1 65.8,259.0 66.6,259.0 67.3,258.9 68.0,258.8 68.7,258.7 69.4,258.7 70.1,258.6 70.8,258.4 71.5,258.3 72.2,258.2 72.9,258.1 73.6,257.9 74.4,257.8 75.1,257.6 75.8,257.5 76.5,257.3 77.2,257.2 77.9,257.0 78.6,256.8 79.3,256.6 80.0,256.4 80.7,256.2 81.4,256.1 82.2,255.9 82.9,255.7 83.6,255.5 84.3,255.3 85.0,255.1 85.7,254.9 86.4,254.8 87.1,254.6 87.8,254.4 88.5,254.3 89.2,254.2 89.9,254.0 90.7,253.9 91.4,253.8 92.1,253.7 92.8,253.7 93.5,253.6 94.2,253.6 94.9,253.5 95.6,253.5 96.3,253.5 97.0,253.5 97.7,253.6 98.5,253.6 99.2,253.7 99.9,253.8 100.6,253.9 101.3,254.0 102.0,254.2 102.7,254.3 103.4,254.5 104.1,254.7 104.8,254.9 105.5,255.1 106.3,255.3 107.0,255.5 107.7,255.8 108.4,256.0 109.1,256.2 109.8,256.5 110.5,256.7 111.2,257.0 111.9,257.3 112.6,257.5 113.3,257.8 114.0,258.0 114.8,258.3 115.5,258.6 116.2,258.8 116.9,259.1 117.6,259.3 118.3,259.5 119.0,259.8 119.7,260.0 120.4,260.2 121.1,260.4 121.8,260.6 122.6,260.8 123.3,261.0 124.0,261.2 124.7,261.4 125.4,261.5 126.1,261.7 126.8,261.9 127.5,262.0 128.2,262.1 128.9,262.3 129.6,262.4 130.4,262.5 131.1,262.6 131.8,262.7 132.5,262.8 133.2,262.9 133.9,263.0 134.6,263.1 135.3,263.2 136.0,263.2 136.7,263.3 137.4,263.4 138.1,263.5" fill="none" stroke="#f08a1e" stroke-width="1.6" stroke-linejoin="round" stroke-linecap="round" />
<path d="M104.8,261.8 105.5,261.8 106.3,261.8 107.0,261.8 107.7,261.8 108.4,261.8 109.1,261.7 109.8,261.7 110.5,261.7 111.2,261.6 111.9,261.6 112.6,261.5 113.3,261.5 114.0,261.4 114.8,261.3 115.5,261.2 116.2,261.1 116.9,261.0 117.6,260.9 118.3,260.8 119.0,260.6 119.7,260.5 120.4,260.3 121.1,260.1 121.8,259.9 122.6,259.8 123.3,259.5 124.0,259.3 124.7,259.1 125.4,258.9 126.1,258.6 126.8,258.4 127.5,258.1 128.2,257.9 128.9,257.6 129.6,257.4 130.4,257.1 131.1,256.8 131.8,256.6 132.5,256.3 133.2,256.1 133.9,255.8 134.6,255.6 135.3,255.4 136.0,255.1 136.7,254.9 137.4,254.8 138.1,254.6 138.9,254.4 139.6,254.3 140.3,254.2 141.0,254.1 141.7,254.0 142.4,254.0 143.1,253.9 143.8,253.9 144.5,253.9 145.2,254.0 145.9,254.1 146.7,254.2 147.4,254.3 148.1,254.4 148.8,254.6 149.5,254.8 150.2,255.0 150.9,255.2 151.6,255.4 152.3,255.7 153.0,255.9 153.7,256.2 154.5,256.5 155.2,256.8 155.9,257.1 156.6,257.5 157.3,257.8 158.0,258.1 158.7,258.5 159.4,258.8 160.1,259.1 160.8,259.5 161.5,259.8 162.2,260.1 163.0,260.4 163.7,260.7 164.4,261.0 165.1,261.3 165.8,261.6 166.5,261.9 167.2,262.2 167.9,262.4 168.6,262.7 169.3,262.9 170.0,263.2 170.8,263.4 171.5,263.6 172.2,263.8 172.9,264.1 173.6,264.3 174.3,264.5 175.0,264.7 175.7,265.0 176.4,265.2 177.1,265.5 177.8,265.8 178.6,266.1 179.3,266.4 180.0,266.8 180.7,267.2 181.4,267.6 182.1,268.1 182.8,268.6 183.5,269.1 184.2,269.6" fill="none" stroke="#e62a8c" stroke-width="1.6" stroke-linejoin="round" stroke-linecap="round" />
<path d="M150.2,264.1 150.9,264.1 151.6,264.0 152.3,263.9 153.0,263.8 153.7,263.7 154.5,263.5 155.2,263.3 155.9,263.0 156.6,262.7 157.3,262.3 158.0,261.9 158.7,261.4 159.4,260.9 160.1,260.3 160.8,259.8 161.5,259.2 162.2,258.6 163.0,258.1 163.7,257.6 164.4,257.1 165.1,256.8 165.8,256.5 166.5,256.3 167.2,256.2 167.9,256.3 168.6,256.5 169.3,256.7 170.0,257.1 170.8,257.6 171.5,258.1 172.2,258.7 172.9,259.4 173.6,260.1 174.3,260.8 175.0,261.5 175.7,262.2 176.4,262.9 177.1,263.5 177.8,264.2 178.6,264.8 179.3,265.4 180.0,266.0 180.7,266.6 181.4,267.2 182.1,267.8 182.8,268.4 183.5,269.0 184.2,269.6 184.9,270.2" fill="none" stroke="#2ee3e3" stroke-width="1.6" stroke-linejoin="round" stroke-linecap="round" />
<path d="M160.1,264.6 160.8,264.5 161.5,264.5 162.2,264.4 163.0,264.3 163.7,264.2 164.4,264.0 165.1,263.7 165.8,263.3 166.5,262.8 167.2,262.1 167.9,261.3 168.6,260.3 169.3,259.0 170.0,257.5 170.8,255.7 171.5,253.5 172.2,251.0 172.9,248.2 173.6,245.0 174.3,241.6 175.0,237.8 175.7,233.7 176.4,229.5 177.1,225.2 177.8,221.0 178.6,216.8 179.3,212.8 180.0,209.2 180.7,206.1 181.4,203.6 182.1,201.7 182.8,200.6 183.5,200.3 184.2,200.8 184.9,202.3 185.6,204.8 186.3,208.2 187.1,212.3 187.8,217.0 188.5,222.1 189.2,227.5 189.9,233.0 190.6,238.4 191.3,243.6 192.0,248.5 192.7,253.0 193.4,257.1 194.1,260.7 194.9,263.8 195.6,266.5 196.3,268.7 197.0,270.6 197.7,272.1 198.4,273.3 199.1,274.2 199.8,274.9 200.5,275.5 201.2,275.9 201.9,276.2 202.7,276.4 203.4,276.6 204.1,276.7 204.8,276.8 205.5,276.8" fill="none" stroke="#7c127c" stroke-width="1.7" stroke-linejoin="round" stroke-linecap="round" />
<path d="M46.0,259.7 46.7,259.7 47.4,259.7 48.1,259.8 48.8,259.8 49.5,259.8 50.3,259.9 51.0,259.9 51.7,260.0 52.4,260.0 53.1,260.0 53.8,260.1 54.5,260.1 55.2,260.1 55.9,260.2 56.6,260.2 57.3,260.2 58.1,260.3 58.8,260.3 59.5,260.3 60.2,260.4 60.9,260.4 61.6,260.5 62.3,260.5 63.0,260.5 63.7,260.6 64.4,260.6 65.1,260.6 65.8,260.7 66.6,260.7 67.3,260.7 68.0,260.8 68.7,260.8 69.4,260.8 70.1,260.9 70.8,260.9 71.5,260.9 72.2,261.0 72.9,261.0 73.6,261.1 74.4,261.1 75.1,261.1 75.8,261.2 76.5,261.2 77.2,261.2 77.9,261.3 78.6,261.3 79.3,261.3 80.0,261.4 80.7,261.4 81.4,261.4 82.2,261.5 82.9,261.5 83.6,261.6 84.3,261.6 85.0,261.6 85.7,261.7 86.4,261.7 87.1,261.7 87.8,261.8 88.5,261.8 89.2,261.8 89.9,261.9 90.7,261.9 91.4,261.9 92.1,262.0 92.8,262.0 93.5,262.1 94.2,262.1 94.9,262.1 95.6,262.2 96.3,262.2 97.0,262.2 97.7,262.3 98.5,262.3 99.2,262.3 99.9,262.4 100.6,262.4 101.3,262.4 102.0,262.5 102.7,262.5 103.4,262.5 104.1,262.6 104.8,262.6 105.5,262.7 106.3,262.7 107.0,262.7 107.7,262.8 108.4,262.8 109.1,262.8 109.8,262.9 110.5,262.9 111.2,262.9 111.9,263.0 112.6,263.0 113.3,263.0 114.0,263.1 114.8,263.1 115.5,263.2 116.2,263.2 116.9,263.2 117.6,263.3 118.3,263.3 119.0,263.3 119.7,263.4 120.4,263.4 121.1,263.4 121.8,263.5 122.6,263.5 123.3,263.5 124.0,263.6 124.7,263.6 125.4,263.7 126.1,263.7 126.8,263.7 127.5,263.8 128.2,263.8 128.9,263.8 129.6,263.9 130.4,263.9 131.1,263.9 131.8,264.0 132.5,264.0 133.2,264.0 133.9,264.1 134.6,264.1 135.3,264.1 136.0,264.2 136.7,264.2 137.4,264.3 138.1,264.3 138.9,264.3 139.6,264.4 140.3,264.4 141.0,264.4 141.7,264.5 142.4,264.5 143.1,264.5 143.8,264.6 144.5,264.6 145.2,264.6 145.9,264.7 146.7,264.7 147.4,264.8 148.1,264.8 148.8,264.8 149.5,264.9 150.2,264.9 150.9,264.9 151.6,265.0 152.3,265.0 153.0,265.0 153.7,265.1 154.5,265.1 155.2,265.1 155.9,265.2 156.6,265.2 157.3,265.3 158.0,265.3 158.7,265.3 159.4,265.4 160.1,265.4 160.8,265.4 161.5,265.5 162.2,265.5 163.0,265.5 163.7,265.6 164.4,265.6 165.1,265.6 165.8,265.7 166.5,265.7 167.2,265.8 167.9,265.8 168.6,265.8 169.3,265.9 170.0,265.9 170.8,266.0 171.5,266.0 172.2,266.1 172.9,266.2 173.6,266.2 174.3,266.3 175.0,266.4 175.7,266.6 176.4,266.7 177.1,266.9 177.8,267.1 178.6,267.3 179.3,267.6 180.0,267.9 180.7,268.2 181.4,268.6 182.1,269.0 182.8,269.5 183.5,269.9 184.2,270.4 184.9,271.0 185.6,271.5 186.3,272.1 187.1,272.6 187.8,273.1 188.5,273.6 189.2,274.1 189.9,274.6 190.6,275.0 191.3,275.4 192.0,275.8 192.7,276.1 193.4,276.4 194.1,276.6 194.9,276.8 195.6,277.0 196.3,277.1 197.0,277.3 197.7,277.4 198.4,277.4 199.1,277.5 199.8,277.5 200.5,277.6 201.2,277.6 201.9,277.6 202.7,277.6 203.4,277.6 204.1,277.6 204.8,277.6 205.5,277.6 206.2,277.6 206.9,277.6 207.6,277.6 208.3,277.6 209.0,277.6 209.7,277.6 210.4,277.6 211.2,277.6 211.9,277.6 212.6,277.6 213.3,277.6 214.0,277.6 214.7,277.6 215.4,277.6 216.1,277.6 216.8,277.6 217.5,277.6 218.2,277.6 219.0,277.6 219.7,277.6 220.4,277.6 221.1,277.6 221.8,277.6 222.5,277.6" fill="none" stroke="#b0762a" stroke-width="1.4" stroke-linejoin="round" stroke-linecap="round" />
<path d="M46.0,258.6 46.7,258.6 47.4,258.6 48.1,258.7 48.8,258.7 49.5,258.7 50.3,258.8 51.0,258.8 51.7,258.9 52.4,258.9 53.1,258.9 53.8,259.0 54.5,259.0 55.2,259.0 55.9,259.1 56.6,259.1 57.3,259.1 58.1,259.2 58.8,259.2 59.5,259.2 60.2,259.3 60.9,259.3 61.6,259.4 62.3,259.4 63.0,259.4 63.7,259.5 64.4,259.5 65.1,259.5 65.8,259.6 66.6,259.6 67.3,259.6 68.0,259.7 68.7,259.7 69.4,259.7 70.1,259.8 70.8,259.8 71.5,259.8 72.2,259.9 72.9,259.9 73.6,260.0 74.4,260.0 75.1,260.0 75.8,260.1 76.5,260.1 77.2,260.1 77.9,260.2 78.6,260.2 79.3,260.2 80.0,260.3 80.7,260.3 81.4,260.3 82.2,260.4 82.9,260.4 83.6,260.5 84.3,260.5 85.0,260.5 85.7,260.6 86.4,260.6 87.1,260.6 87.8,260.7 88.5,260.7 89.2,260.7 89.9,260.8 90.7,260.8 91.4,260.8 92.1,260.9 92.8,260.9 93.5,261.0 94.2,261.0 94.9,261.0 95.6,261.1 96.3,261.1 97.0,261.1 97.7,261.2 98.5,261.2 99.2,261.2 99.9,261.3 100.6,261.3 101.3,261.3 102.0,261.4 102.7,261.4 103.4,261.4 104.1,261.5 104.8,261.5 105.5,261.6 106.3,261.6 107.0,261.6 107.7,261.7 108.4,261.7 109.1,261.7 109.8,261.8 110.5,261.8 111.2,261.8 111.9,261.9 112.6,261.9 113.3,261.9 114.0,262.0 114.8,262.0 115.5,262.1 116.2,262.1 116.9,262.1 117.6,262.2 118.3,262.2 119.0,262.2 119.7,262.3 120.4,262.3 121.1,262.3 121.8,262.4 122.6,262.4 123.3,262.4 124.0,262.5 124.7,262.5 125.4,262.6 126.1,262.6 126.8,262.6 127.5,262.7 128.2,262.7 128.9,262.7 129.6,262.8 130.4,262.8 131.1,262.8 131.8,262.9 132.5,262.9 133.2,262.9 133.9,263.0 134.6,263.0 135.3,263.0 136.0,263.1 136.7,263.1 137.4,263.2 138.1,263.2 138.9,263.2 139.6,263.3 140.3,263.3 141.0,263.3 141.7,263.4 142.4,263.4 143.1,263.4 143.8,263.5 144.5,263.5 145.2,263.5 145.9,263.6 146.7,263.6 147.4,263.7 148.1,263.7 148.8,263.7 149.5,263.8 150.2,263.8 150.9,263.8 151.6,263.9 152.3,263.9 153.0,263.9 153.7,264.0 154.5,264.0 155.2,264.0 155.9,264.1 156.6,264.1 157.3,264.2 158.0,264.2 158.7,264.2 159.4,264.3 160.1,264.3 160.8,264.3 161.5,264.4 162.2,264.4 163.0,264.4 163.7,264.5 164.4,264.5 165.1,264.5 165.8,264.6 166.5,264.6 167.2,264.7 167.9,264.7 168.6,264.7 169.3,264.8 170.0,264.8 170.8,264.9 171.5,264.9 172.2,265.0 172.9,265.1 173.6,265.1 174.3,265.2 175.0,265.3 175.7,265.5 176.4,265.6 177.1,265.8 177.8,266.0 178.6,266.2 179.3,266.5 180.0,266.8 180.7,267.1 181.4,267.5 182.1,267.9 182.8,268.4 183.5,268.8 184.2,269.3 184.9,269.9 185.6,270.4 186.3,271.0 187.1,271.5 187.8,272.0 188.5,272.5 189.2,273.0 189.9,273.5 190.6,273.9 191.3,274.3 192.0,274.7 192.7,275.0 193.4,275.3 194.1,275.5 194.9,275.7 195.6,275.9 196.3,276.0 197.0,276.2 197.7,276.3 198.4,276.3 199.1,276.4 199.8,276.4 200.5,276.5 201.2,276.5 201.9,276.5 202.7,276.5 203.4,276.5 204.1,276.5 204.8,276.5 205.5,276.5 206.2,276.5 206.9,276.5 207.6,276.5 208.3,276.5 209.0,276.5 209.7,276.5 210.4,276.5 211.2,276.5 211.9,276.5 212.6,276.5 213.3,276.5 214.0,276.5 214.7,276.5 215.4,276.5 216.1,276.5 216.8,276.5 217.5,276.5 218.2,276.5 219.0,276.5 219.7,276.5 220.4,276.5 221.1,276.5 221.8,276.5 222.5,276.5" fill="none" stroke="#7fa040" stroke-width="1.4" stroke-linejoin="round" stroke-linecap="round" />
<path d="M46.0,259.0 46.7,259.1 47.4,259.1 48.1,259.1 48.8,259.1 49.5,259.2 50.3,259.2 51.0,259.2 51.7,259.2 52.4,259.3 53.1,259.3 53.8,259.3 54.5,259.3 55.2,259.3 55.9,259.3 56.6,259.3 57.3,259.3 58.1,259.3 58.8,259.3 59.5,259.3 60.2,259.3 60.9,259.3 61.6,259.3 62.3,259.3 63.0,259.2 63.7,259.2 64.4,259.1 65.1,259.1 65.8,259.0 66.6,259.0 67.3,258.9 68.0,258.8 68.7,258.7 69.4,258.6 70.1,258.5 70.8,258.4 71.5,258.3 72.2,258.2 72.9,258.1 73.6,257.9 74.4,257.8 75.1,257.6 75.8,257.5 76.5,257.3 77.2,257.1 77.9,257.0 78.6,256.8 79.3,256.6 80.0,256.4 80.7,256.2 81.4,256.0 82.2,255.9 82.9,255.7 83.6,255.5 84.3,255.3 85.0,255.1 85.7,254.9 86.4,254.8 87.1,254.6 87.8,254.4 88.5,254.3 89.2,254.1 89.9,254.0 90.7,253.9 91.4,253.8 92.1,253.7 92.8,253.6 93.5,253.6 94.2,253.5 94.9,253.5 95.6,253.5 96.3,253.5 97.0,253.5 97.7,253.5 98.5,253.6 99.2,253.6 99.9,253.7 100.6,253.8 101.3,253.9 102.0,254.0 102.7,254.2 103.4,254.3 104.1,254.5 104.8,254.6 105.5,254.8 106.3,255.0 107.0,255.2 107.7,255.3 108.4,255.5 109.1,255.7 109.8,255.9 110.5,256.1 111.2,256.3 111.9,256.5 112.6,256.6 113.3,256.8 114.0,256.9 114.8,257.1 115.5,257.2 116.2,257.3 116.9,257.4 117.6,257.5 118.3,257.6 119.0,257.6 119.7,257.7 120.4,257.7 121.1,257.7 121.8,257.7 122.6,257.7 123.3,257.6 124.0,257.5 124.7,257.4 125.4,257.3 126.1,257.2 126.8,257.1 127.5,257.0 128.2,256.8 128.9,256.6 129.6,256.5 130.4,256.3 131.1,256.1 131.8,255.9 132.5,255.7 133.2,255.5 133.9,255.3 134.6,255.1 135.3,254.9 136.0,254.8 136.7,254.6 137.4,254.4 138.1,254.3 138.9,254.2 139.6,254.1 140.3,254.0 141.0,253.9 141.7,253.8 142.4,253.8 143.1,253.8 143.8,253.8 144.5,253.8 145.2,253.9 145.9,253.9 146.7,254.0 147.4,254.1 148.1,254.2 148.8,254.4 149.5,254.5 150.2,254.7 150.9,254.8 151.6,255.0 152.3,255.1 153.0,255.2 153.7,255.3 154.5,255.4 155.2,255.4 155.9,255.4 156.6,255.4 157.3,255.3 158.0,255.2 158.7,255.0 159.4,254.7 160.1,254.4 160.8,254.1 161.5,253.8 162.2,253.4 163.0,253.0 163.7,252.6 164.4,252.1 165.1,251.7 165.8,251.3 166.5,250.8 167.2,250.3 167.9,249.7 168.6,249.0 169.3,248.1 170.0,247.1 170.8,245.9 171.5,244.4 172.2,242.6 172.9,240.5 173.6,238.1 174.3,235.4 175.0,232.3 175.7,228.9 176.4,225.4 177.1,221.7 177.8,217.9 178.6,214.2 179.3,210.7 180.0,207.5 180.7,204.7 181.4,202.4 182.1,200.7 182.8,199.8 183.5,199.6 184.2,200.3 184.9,202.0 185.6,204.5 186.3,208.0 187.1,212.1 187.8,216.8 188.5,222.0 189.2,227.4 189.9,232.9 190.6,238.3 191.3,243.5 192.0,248.4 192.7,252.9 193.4,257.0 194.1,260.6 194.9,263.8 195.6,266.5 196.3,268.7 197.0,270.6 197.7,272.1 198.4,273.3 199.1,274.2 199.8,274.9 200.5,275.5 201.2,275.9 201.9,276.2 202.7,276.4 203.4,276.6 204.1,276.7 204.8,276.8 205.5,276.8 206.2,276.9 206.9,276.9 207.6,276.9 208.3,276.9 209.0,276.9 209.7,276.9 210.4,277.0 211.2,277.0 211.9,277.0 212.6,277.0 213.3,277.0 214.0,277.0 214.7,277.0 215.4,277.0 216.1,277.0 216.8,277.0 217.5,277.0 218.2,277.0 219.0,277.0 219.7,277.0 220.4,277.0 221.1,277.0 221.8,277.0 222.5,277.0" fill="none" stroke="#1c12b8" stroke-width="2.3" stroke-linejoin="round" stroke-linecap="round" />
<path d="M58.8,343.9 59.5,343.9 60.2,343.9 60.9,343.9 61.6,343.9 62.3,343.9 63.0,343.9 63.7,343.9 64.4,343.8 65.1,343.8 65.8,343.8 66.6,343.7 67.3,343.7 68.0,343.6 68.7,343.6 69.4,343.5 70.1,343.4 70.8,343.3 71.5,343.2 72.2,343.1 72.9,343.0 73.6,342.9 74.4,342.7 75.1,342.6 75.8,342.4 76.5,342.3 77.2,342.1 77.9,341.9 78.6,341.7 79.3,341.5 80.0,341.3 80.7,341.1 81.4,340.9 82.2,340.7 82.9,340.4 83.6,340.2 84.3,340.0 85.0,339.8 85.7,339.5 86.4,339.3 87.1,339.1 87.8,338.8 88.5,338.6 89.2,338.4 89.9,338.2 90.7,338.0 91.4,337.8 92.1,337.6 92.8,337.4 93.5,337.2 94.2,337.1 94.9,337.0 95.6,336.9 96.3,336.8 97.0,336.7 97.7,336.6 98.5,336.6 99.2,336.6 99.9,336.6 100.6,336.6 101.3,336.6 102.0,336.7 102.7,336.8 103.4,336.9 104.1,337.0 104.8,337.1 105.5,337.3 106.3,337.5 107.0,337.7 107.7,337.9 108.4,338.1 109.1,338.4 109.8,338.6 110.5,338.9 111.2,339.1 111.9,339.4 112.6,339.7 113.3,340.0 114.0,340.3 114.8,340.6 115.5,340.9 116.2,341.2 116.9,341.5 117.6,341.8 118.3,342.2 119.0,342.5 119.7,342.8 120.4,343.0 121.1,343.3 121.8,343.6 122.6,343.9 123.3,344.2 124.0,344.4 124.7,344.7 125.4,344.9 126.1,345.1 126.8,345.4 127.5,345.6 128.2,345.8 128.9,346.0 129.6,346.2 130.4,346.3 131.1,346.5 131.8,346.7 132.5,346.8 133.2,347.0 133.9,347.1 134.6,347.2 135.3,347.3 136.0,347.5 136.7,347.6 137.4,347.7 138.1,347.8 138.9,347.9 139.6,347.9 140.3,348.0 141.0,348.1 141.7,348.2 142.4,348.2 143.1,348.3" fill="none" stroke="#f08a1e" stroke-width="1.6" stroke-linejoin="round" stroke-linecap="round" />
<path d="M104.8,346.3 105.5,346.3 106.3,346.3 107.0,346.3 107.7,346.4 108.4,346.4 109.1,346.4 109.8,346.4 110.5,346.4 111.2,346.3 111.9,346.3 112.6,346.3 113.3,346.3 114.0,346.3 114.8,346.3 115.5,346.2 116.2,346.2 116.9,346.2 117.6,346.1 118.3,346.1 119.0,346.0 119.7,346.0 120.4,345.9 121.1,345.8 121.8,345.8 122.6,345.7 123.3,345.6 124.0,345.6 124.7,345.5 125.4,345.4 126.1,345.3 126.8,345.2 127.5,345.1 128.2,345.0 128.9,344.9 129.6,344.8 130.4,344.7 131.1,344.6 131.8,344.5 132.5,344.4 133.2,344.3 133.9,344.2 134.6,344.1 135.3,344.0 136.0,343.9 136.7,343.8 137.4,343.7 138.1,343.6 138.9,343.5 139.6,343.4 140.3,343.3 141.0,343.2 141.7,343.1 142.4,343.1 143.1,343.0 143.8,343.0 144.5,342.9 145.2,342.9 145.9,342.8 146.7,342.8 147.4,342.8 148.1,342.8 148.8,342.8 149.5,342.8 150.2,342.8 150.9,342.9 151.6,342.9 152.3,343.0 153.0,343.0 153.7,343.1 154.5,343.2 155.2,343.3 155.9,343.4 156.6,343.5 157.3,343.6 158.0,343.7 158.7,343.8 159.4,343.9 160.1,344.1 160.8,344.2 161.5,344.4 162.2,344.5 163.0,344.7 163.7,344.9 164.4,345.0 165.1,345.2 165.8,345.4 166.5,345.6 167.2,345.8 167.9,346.0 168.6,346.2 169.3,346.4 170.0,346.6 170.8,346.9 171.5,347.1 172.2,347.4 172.9,347.7 173.6,348.0 174.3,348.3 175.0,348.6 175.7,349.0 176.4,349.4 177.1,349.9 177.8,350.4 178.6,350.9 179.3,351.4 180.0,351.9 180.7,352.5 181.4,353.1 182.1,353.7 182.8,354.3 183.5,355.0 184.2,355.6 184.9,356.1 185.6,356.7 186.3,357.3 187.1,357.8 187.8,358.2 188.5,358.7 189.2,359.1 189.9,359.4 190.6,359.8 191.3,360.1 192.0,360.3 192.7,360.5 193.4,360.7 194.1,360.8 194.9,361.0 195.6,361.1 196.3,361.2 197.0,361.2" fill="none" stroke="#e62a8c" stroke-width="1.6" stroke-linejoin="round" stroke-linecap="round" />
<path d="M153.7,348.9 154.5,348.8 155.2,348.7 155.9,348.6 156.6,348.5 157.3,348.3 158.0,348.1 158.7,347.8 159.4,347.5 160.1,347.1 160.8,346.7 161.5,346.2 162.2,345.7 163.0,345.1 163.7,344.6 164.4,344.0 165.1,343.5 165.8,343.0 166.5,342.5 167.2,342.2 167.9,341.9 168.6,341.8 169.3,341.7 170.0,341.8 170.8,342.1 171.5,342.4 172.2,342.9 172.9,343.5 173.6,344.1 174.3,344.9 175.0,345.7 175.7,346.5 176.4,347.4 177.1,348.3 177.8,349.2 178.6,350.1 179.3,351.0 180.0,351.8 180.7,352.7 181.4,353.4 182.1,354.2 182.8,354.9 183.5,355.6 184.2,356.3 184.9,356.9 185.6,357.5" fill="none" stroke="#2ee3e3" stroke-width="1.6" stroke-linejoin="round" stroke-linecap="round" />
<path d="M153.0,348.8 153.7,348.8 154.5,348.9 155.2,348.9 155.9,348.9 156.6,348.9 157.3,349.0 158.0,349.0 158.7,349.0 159.4,349.0 160.1,349.0 160.8,349.0 161.5,349.0 162.2,349.0 163.0,349.0 163.7,348.9 164.4,348.9 165.1,348.8 165.8,348.6 166.5,348.4 167.2,348.0 167.9,347.5 168.6,346.9 169.3,346.0 170.0,344.8 170.8,343.2 171.5,341.2 172.2,338.8 172.9,335.8 173.6,332.3 174.3,328.3 175.0,323.7 175.7,318.7 176.4,313.4 177.1,307.9 177.8,302.4 178.6,297.2 179.3,292.5 180.0,288.6 180.7,285.6 181.4,283.9 182.1,283.5 182.8,284.4 183.5,286.6 184.2,289.9 184.9,294.3 185.6,299.4 186.3,305.0 187.1,311.0 187.8,317.1 188.5,323.0 189.2,328.7 189.9,334.0 190.6,338.8 191.3,343.0 192.0,346.6 192.7,349.7 193.4,352.3 194.1,354.4 194.9,356.0 195.6,357.3 196.3,358.3 197.0,359.1 197.7,359.7 198.4,360.1 199.1,360.4 199.8,360.6 200.5,360.8 201.2,360.9 201.9,361.0 202.7,361.1 203.4,361.1 204.1,361.2 204.8,361.2 205.5,361.2 206.2,361.3 206.9,361.3 207.6,361.3 208.3,361.3 209.0,361.3 209.7,361.3 210.4,361.4 211.2,361.4 211.9,361.4" fill="none" stroke="#7c127c" stroke-width="1.7" stroke-linejoin="round" stroke-linecap="round" />
<path d="M46.0,344.1 46.7,344.1 47.4,344.2 48.1,344.2 48.8,344.2 49.5,344.3 50.3,344.3 51.0,344.3 51.7,344.4 52.4,344.4 53.1,344.5 53.8,344.5 54.5,344.5 55.2,344.6 55.9,344.6 56.6,344.6 57.3,344.7 58.1,344.7 58.8,344.7 59.5,344.8 60.2,344.8 60.9,344.9 61.6,344.9 62.3,344.9 63.0,345.0 63.7,345.0 64.4,345.0 65.1,345.1 65.8,345.1 66.6,345.2 67.3,345.2 68.0,345.2 68.7,345.3 69.4,345.3 70.1,345.3 70.8,345.4 71.5,345.4 72.2,345.5 72.9,345.5 73.6,345.5 74.4,345.6 75.1,345.6 75.8,345.6 76.5,345.7 77.2,345.7 77.9,345.7 78.6,345.8 79.3,345.8 80.0,345.9 80.7,345.9 81.4,345.9 82.2,346.0 82.9,346.0 83.6,346.0 84.3,346.1 85.0,346.1 85.7,346.2 86.4,346.2 87.1,346.2 87.8,346.3 88.5,346.3 89.2,346.3 89.9,346.4 90.7,346.4 91.4,346.4 92.1,346.5 92.8,346.5 93.5,346.6 94.2,346.6 94.9,346.6 95.6,346.7 96.3,346.7 97.0,346.7 97.7,346.8 98.5,346.8 99.2,346.9 99.9,346.9 100.6,346.9 101.3,347.0 102.0,347.0 102.7,347.0 103.4,347.1 104.1,347.1 104.8,347.1 105.5,347.2 106.3,347.2 107.0,347.3 107.7,347.3 108.4,347.3 109.1,347.4 109.8,347.4 110.5,347.4 111.2,347.5 111.9,347.5 112.6,347.6 113.3,347.6 114.0,347.6 114.8,347.7 115.5,347.7 116.2,347.7 116.9,347.8 117.6,347.8 118.3,347.8 119.0,347.9 119.7,347.9 120.4,348.0 121.1,348.0 121.8,348.0 122.6,348.1 123.3,348.1 124.0,348.1 124.7,348.2 125.4,348.2 126.1,348.3 126.8,348.3 127.5,348.3 128.2,348.4 128.9,348.4 129.6,348.4 130.4,348.5 131.1,348.5 131.8,348.5 132.5,348.6 133.2,348.6 133.9,348.7 134.6,348.7 135.3,348.7 136.0,348.8 136.7,348.8 137.4,348.8 138.1,348.9 138.9,348.9 139.6,349.0 140.3,349.0 141.0,349.0 141.7,349.1 142.4,349.1 143.1,349.1 143.8,349.2 144.5,349.2 145.2,349.2 145.9,349.3 146.7,349.3 147.4,349.4 148.1,349.4 148.8,349.4 149.5,349.5 150.2,349.5 150.9,349.5 151.6,349.6 152.3,349.6 153.0,349.7 153.7,349.7 154.5,349.7 155.2,349.8 155.9,349.8 156.6,349.8 157.3,349.9 158.0,349.9 158.7,350.0 159.4,350.0 160.1,350.0 160.8,350.1 161.5,350.1 162.2,350.1 163.0,350.2 163.7,350.2 164.4,350.3 165.1,350.3 165.8,350.3 166.5,350.4 167.2,350.4 167.9,350.5 168.6,350.6 169.3,350.6 170.0,350.7 170.8,350.8 171.5,350.9 172.2,351.0 172.9,351.2 173.6,351.3 174.3,351.5 175.0,351.8 175.7,352.0 176.4,352.3 177.1,352.6 177.8,353.0 178.6,353.4 179.3,353.8 180.0,354.2 180.7,354.7 181.4,355.2 182.1,355.7 182.8,356.2 183.5,356.8 184.2,357.3 184.9,357.8 185.6,358.3 186.3,358.8 187.1,359.2 187.8,359.6 188.5,360.0 189.2,360.3 189.9,360.6 190.6,360.9 191.3,361.2 192.0,361.4 192.7,361.5 193.4,361.7 194.1,361.8 194.9,361.9 195.6,362.0 196.3,362.0 197.0,362.1 197.7,362.1 198.4,362.1 199.1,362.2 199.8,362.2 200.5,362.2 201.2,362.2 201.9,362.2 202.7,362.2 203.4,362.2 204.1,362.2 204.8,362.2 205.5,362.2 206.2,362.2 206.9,362.2 207.6,362.2 208.3,362.2 209.0,362.2 209.7,362.2 210.4,362.2 211.2,362.2 211.9,362.2 212.6,362.2 213.3,362.2 214.0,362.2 214.7,362.2 215.4,362.2 216.1,362.2 216.8,362.2 217.5,362.2 218.2,362.2 219.0,362.2 219.7,362.2 220.4,362.2 221.1,362.2 221.8,362.2 222.5,362.2" fill="none" stroke="#b0762a" stroke-width="1.4" stroke-linejoin="round" stroke-linecap="round" />
<path d="M46.0,343.0 46.7,343.0 47.4,343.1 48.1,343.1 48.8,343.1 49.5,343.2 50.3,343.2 51.0,343.2 51.7,343.3 52.4,343.3 53.1,343.4 53.8,343.4 54.5,343.4 55.2,343.5 55.9,343.5 56.6,343.5 57.3,343.6 58.1,343.6 58.8,343.6 59.5,343.7 60.2,343.7 60.9,343.8 61.6,343.8 62.3,343.8 63.0,343.9 63.7,343.9 64.4,343.9 65.1,344.0 65.8,344.0 66.6,344.1 67.3,344.1 68.0,344.1 68.7,344.2 69.4,344.2 70.1,344.2 70.8,344.3 71.5,344.3 72.2,344.4 72.9,344.4 73.6,344.4 74.4,344.5 75.1,344.5 75.8,344.5 76.5,344.6 77.2,344.6 77.9,344.6 78.6,344.7 79.3,344.7 80.0,344.8 80.7,344.8 81.4,344.8 82.2,344.9 82.9,344.9 83.6,344.9 84.3,345.0 85.0,345.0 85.7,345.1 86.4,345.1 87.1,345.1 87.8,345.2 88.5,345.2 89.2,345.2 89.9,345.3 90.7,345.3 91.4,345.3 92.1,345.4 92.8,345.4 93.5,345.5 94.2,345.5 94.9,345.5 95.6,345.6 96.3,345.6 97.0,345.6 97.7,345.7 98.5,345.7 99.2,345.8 99.9,345.8 100.6,345.8 101.3,345.9 102.0,345.9 102.7,345.9 103.4,346.0 104.1,346.0 104.8,346.0 105.5,346.1 106.3,346.1 107.0,346.2 107.7,346.2 108.4,346.2 109.1,346.3 109.8,346.3 110.5,346.3 111.2,346.4 111.9,346.4 112.6,346.5 113.3,346.5 114.0,346.5 114.8,346.6 115.5,346.6 116.2,346.6 116.9,346.7 117.6,346.7 118.3,346.7 119.0,346.8 119.7,346.8 120.4,346.9 121.1,346.9 121.8,346.9 122.6,347.0 123.3,347.0 124.0,347.0 124.7,347.1 125.4,347.1 126.1,347.2 126.8,347.2 127.5,347.2 128.2,347.3 128.9,347.3 129.6,347.3 130.4,347.4 131.1,347.4 131.8,347.4 132.5,347.5 133.2,347.5 133.9,347.6 134.6,347.6 135.3,347.6 136.0,347.7 136.7,347.7 137.4,347.7 138.1,347.8 138.9,347.8 139.6,347.9 140.3,347.9 141.0,347.9 141.7,348.0 142.4,348.0 143.1,348.0 143.8,348.1 144.5,348.1 145.2,348.1 145.9,348.2 146.7,348.2 147.4,348.3 148.1,348.3 148.8,348.3 149.5,348.4 150.2,348.4 150.9,348.4 151.6,348.5 152.3,348.5 153.0,348.6 153.7,348.6 154.5,348.6 155.2,348.7 155.9,348.7 156.6,348.7 157.3,348.8 158.0,348.8 158.7,348.9 159.4,348.9 160.1,348.9 160.8,349.0 161.5,349.0 162.2,349.0 163.0,349.1 163.7,349.1 164.4,349.2 165.1,349.2 165.8,349.2 166.5,349.3 167.2,349.3 167.9,349.4 168.6,349.5 169.3,349.5 170.0,349.6 170.8,349.7 171.5,349.8 172.2,349.9 172.9,350.1 173.6,350.2 174.3,350.4 175.0,350.7 175.7,350.9 176.4,351.2 177.1,351.5 177.8,351.9 178.6,352.3 179.3,352.7 180.0,353.1 180.7,353.6 181.4,354.1 182.1,354.6 182.8,355.1 183.5,355.7 184.2,356.2 184.9,356.7 185.6,357.2 186.3,357.7 187.1,358.1 187.8,358.5 188.5,358.9 189.2,359.2 189.9,359.5 190.6,359.8 191.3,360.1 192.0,360.3 192.7,360.4 193.4,360.6 194.1,360.7 194.9,360.8 195.6,360.9 196.3,360.9 197.0,361.0 197.7,361.0 198.4,361.0 199.1,361.1 199.8,361.1 200.5,361.1 201.2,361.1 201.9,361.1 202.7,361.1 203.4,361.1 204.1,361.1 204.8,361.1 205.5,361.1 206.2,361.1 206.9,361.1 207.6,361.1 208.3,361.1 209.0,361.1 209.7,361.1 210.4,361.1 211.2,361.1 211.9,361.1 212.6,361.1 213.3,361.1 214.0,361.1 214.7,361.1 215.4,361.1 216.1,361.1 216.8,361.1 217.5,361.1 218.2,361.1 219.0,361.1 219.7,361.1 220.4,361.1 221.1,361.1 221.8,361.1 222.5,361.1" fill="none" stroke="#7fa040" stroke-width="1.4" stroke-linejoin="round" stroke-linecap="round" />
<path d="M46.0,343.5 46.7,343.5 47.4,343.5 48.1,343.6 48.8,343.6 49.5,343.6 50.3,343.7 51.0,343.7 51.7,343.7 52.4,343.7 53.1,343.8 53.8,343.8 54.5,343.8 55.2,343.8 55.9,343.8 56.6,343.9 57.3,343.9 58.1,343.9 58.8,343.9 59.5,343.9 60.2,343.9 60.9,343.9 61.6,343.9 62.3,343.9 63.0,343.9 63.7,343.9 64.4,343.8 65.1,343.8 65.8,343.8 66.6,343.7 67.3,343.7 68.0,343.6 68.7,343.5 69.4,343.5 70.1,343.4 70.8,343.3 71.5,343.2 72.2,343.1 72.9,343.0 73.6,342.8 74.4,342.7 75.1,342.6 75.8,342.4 76.5,342.2 77.2,342.1 77.9,341.9 78.6,341.7 79.3,341.5 80.0,341.3 80.7,341.1 81.4,340.9 82.2,340.6 82.9,340.4 83.6,340.2 84.3,340.0 85.0,339.7 85.7,339.5 86.4,339.3 87.1,339.0 87.8,338.8 88.5,338.6 89.2,338.3 89.9,338.1 90.7,337.9 91.4,337.7 92.1,337.5 92.8,337.3 93.5,337.2 94.2,337.0 94.9,336.9 95.6,336.8 96.3,336.7 97.0,336.6 97.7,336.5 98.5,336.5 99.2,336.4 99.9,336.4 100.6,336.4 101.3,336.5 102.0,336.5 102.7,336.6 103.4,336.7 104.1,336.8 104.8,336.9 105.5,337.0 106.3,337.2 107.0,337.3 107.7,337.5 108.4,337.7 109.1,337.9 109.8,338.1 110.5,338.3 111.2,338.6 111.9,338.8 112.6,339.0 113.3,339.3 114.0,339.5 114.8,339.8 115.5,340.0 116.2,340.2 116.9,340.5 117.6,340.7 118.3,340.9 119.0,341.1 119.7,341.3 120.4,341.5 121.1,341.7 121.8,341.9 122.6,342.1 123.3,342.2 124.0,342.4 124.7,342.5 125.4,342.6 126.1,342.7 126.8,342.8 127.5,342.9 128.2,343.0 128.9,343.0 129.6,343.1 130.4,343.1 131.1,343.1 131.8,343.1 132.5,343.1 133.2,343.1 133.9,343.1 134.6,343.1 135.3,343.1 136.0,343.1 136.7,343.0 137.4,343.0 138.1,342.9 138.9,342.9 139.6,342.9 140.3,342.8 141.0,342.8 141.7,342.7 142.4,342.7 143.1,342.7 143.8,342.6 144.5,342.6 145.2,342.6 145.9,342.6 146.7,342.5 147.4,342.5 148.1,342.5 148.8,342.5 149.5,342.5 150.2,342.5 150.9,342.6 151.6,342.6 152.3,342.6 153.0,342.6 153.7,342.6 154.5,342.6 155.2,342.5 155.9,342.5 156.6,342.4 157.3,342.3 158.0,342.1 158.7,341.9 159.4,341.6 160.1,341.3 160.8,341.0 161.5,340.6 162.2,340.1 163.0,339.7 163.7,339.1 164.4,338.6 165.1,338.1 165.8,337.5 166.5,336.9 167.2,336.3 167.9,335.6 168.6,334.9 169.3,334.0 170.0,333.0 170.8,331.7 171.5,330.1 172.2,328.2 172.9,325.8 173.6,322.9 174.3,319.6 175.0,315.7 175.7,311.5 176.4,306.9 177.1,302.1 177.8,297.3 178.6,292.7 179.3,288.6 180.0,285.1 180.7,282.6 181.4,281.3 182.1,281.2 182.8,282.4 183.5,284.8 184.2,288.4 184.9,292.9 185.6,298.2 186.3,304.0 187.1,310.1 187.8,316.2 188.5,322.3 189.2,328.0 189.9,333.4 190.6,338.2 191.3,342.5 192.0,346.2 192.7,349.3 193.4,351.9 194.1,354.0 194.9,355.7 195.6,357.0 196.3,358.1 197.0,358.9 197.7,359.5 198.4,359.9 199.1,360.2 199.8,360.5 200.5,360.7 201.2,360.8 201.9,360.9 202.7,361.0 203.4,361.0 204.1,361.1 204.8,361.1 205.5,361.2 206.2,361.2 206.9,361.2 207.6,361.2 208.3,361.3 209.0,361.3 209.7,361.3 210.4,361.3 211.2,361.3 211.9,361.4 212.6,361.4 213.3,361.4 214.0,361.4 214.7,361.4 215.4,361.4 216.1,361.4 216.8,361.4 217.5,361.4 218.2,361.4 219.0,361.5 219.7,361.5 220.4,361.5 221.1,361.5 221.8,361.5 222.5,361.5" fill="none" stroke="#33d633" stroke-width="2.3" stroke-linejoin="round" stroke-linecap="round" />
<rect x="45.0" y="19.8" width="178.5" height="344.2" fill="none" stroke="#000" stroke-width="2.3"/>
<line x1="45.00" y1="364.00" x2="223.50" y2="364.00" stroke="#000000" stroke-width="2.8"/>
<line x1="58.60" y1="364.00" x2="58.60" y2="360.00" stroke="#000000" stroke-width="1.5"/>
<line x1="113.52" y1="364.00" x2="113.52" y2="360.00" stroke="#000000" stroke-width="1.5"/>
<line x1="168.44" y1="364.00" x2="168.44" y2="360.00" stroke="#000000" stroke-width="1.5"/>
<line x1="223.36" y1="364.00" x2="223.36" y2="360.00" stroke="#000000" stroke-width="1.5"/>
<line x1="86.06" y1="364.00" x2="86.06" y2="361.50" stroke="#000000" stroke-width="1.5"/>
<line x1="140.98" y1="364.00" x2="140.98" y2="361.50" stroke="#000000" stroke-width="1.5"/>
<line x1="195.90" y1="364.00" x2="195.90" y2="361.50" stroke="#000000" stroke-width="1.5"/>
<text x="58.6" y="376.4" style="font-family:'Liberation Sans',sans-serif;font-weight:bold;font-size:11.2px" fill="#000000" text-anchor="middle" >716</text>
<text x="113.5" y="376.4" style="font-family:'Liberation Sans',sans-serif;font-weight:bold;font-size:11.2px" fill="#000000" text-anchor="middle" >712</text>
<text x="168.4" y="376.4" style="font-family:'Liberation Sans',sans-serif;font-weight:bold;font-size:11.2px" fill="#000000" text-anchor="middle" >708</text>
<text x="223.4" y="376.4" style="font-family:'Liberation Sans',sans-serif;font-weight:bold;font-size:11.2px" fill="#000000" text-anchor="middle" >704</text>
<text x="0.6" y="15.6" style="font-family:'Liberation Serif',serif;font-weight:bold;font-size:22px" fill="#000000" textLength="24.4" lengthAdjust="spacingAndGlyphs" >(a)</text>
<text x="177.0" y="15.6" style="font-family:'Liberation Serif',serif;font-weight:bold;font-size:18.5px" fill="#000000" textLength="43.6" lengthAdjust="spacingAndGlyphs" >Fe 2p</text>
<text x="48.0" y="33.4" style="font-family:'Liberation Serif',serif;font-weight:bold;font-size:16.5px" fill="#000000" textLength="98.5" lengthAdjust="spacingAndGlyphs" >As-deposited</text>
<text x="101.4" y="52.0" style="font-family:'Liberation Serif',serif;font-weight:bold;font-size:15.3px" fill="#6a1468" textLength="70.6" lengthAdjust="spacingAndGlyphs" >Fe 707.0eV</text>
<text x="48.6" y="70.4" style="font-family:'Liberation Serif',serif;font-weight:bold;font-size:14.6px" fill="#2ee3e3"><tspan>FeO</tspan><tspan dy="4.5" font-size="12">x</tspan><tspan dy="-4.5" x="87.2">707.8eV</tspan></text>
<text x="47.0" y="113.6" style="font-family:'Liberation Serif',serif;font-weight:bold;font-size:17.2px" fill="#c8141e" textLength="62.6" lengthAdjust="spacingAndGlyphs" >Vacuum</text>
<text x="50.5" y="134.3" style="font-family:'Liberation Serif',serif;font-weight:bold;font-size:14.2px" fill="#cc2888" textLength="80.0" lengthAdjust="spacing" >FeO 709.4eV</text>
<text x="49.5" y="194.9" style="font-family:'Liberation Serif',serif;font-weight:bold;font-size:17.8px" fill="#1a0ca0" textLength="25.4" lengthAdjust="spacingAndGlyphs" >Air</text>
<text x="47.2" y="211.5" style="font-family:'Liberation Serif',serif;font-weight:bold;font-size:13.6px" fill="#e89a48" textLength="96.0" lengthAdjust="spacing" >Co Auger Peak</text>
<text x="69.4" y="232.5" style="font-family:'Liberation Serif',serif;font-weight:bold;font-size:13.6px" fill="#e89a48" textLength="49.5" lengthAdjust="spacing" >713.3eV</text>
<text x="47.8" y="292.5" style="font-family:'Liberation Serif',serif;font-weight:bold;font-size:18px" fill="#33d633"><tspan textLength="50" lengthAdjust="spacingAndGlyphs">Wet N</tspan><tspan x="97.8" y="299.6" font-size="15">2</tspan></text>
<line x1="155.40" y1="52.70" x2="169.39" y2="59.45" stroke="#8a168a" stroke-width="3.0"/>
<polygon points="183.80,66.40 166.10,63.97 170.88,54.06" fill="#8a168a"/>
<line x1="138.00" y1="63.00" x2="152.03" y2="76.11" stroke="#22e8ec" stroke-width="2.6"/>
<polygon points="160.80,84.30 148.23,78.71 154.37,72.14" fill="#22e8ec"/>
<line x1="115.80" y1="137.00" x2="131.75" y2="144.57" stroke="#f0147c" stroke-width="2.8"/>
<polygon points="145.30,151.00 128.81,148.43 132.88,139.85" fill="#f0147c"/>
<line x1="66.00" y1="227.00" x2="83.72" y2="241.02" stroke="#f08818" stroke-width="3.0"/>
<polygon points="94.70,249.70 79.06,245.30 86.81,235.49" fill="#f08818"/>
<text x="0.0" y="0.0" style="font-family:'Liberation Serif',serif;font-weight:bold;font-size:10px" fill="#000" ></text>
<text x="20.2" y="255.8" style="font-family:'Liberation Serif',serif;font-weight:bold;font-size:22px" fill="#000000" textLength="136.7" lengthAdjust="spacingAndGlyphs" transform="rotate(-90 20.2 255.8)">Intensity (a.u.)</text>
<text x="59.6" y="392.7" style="font-family:'Liberation Serif',serif;font-weight:bold;font-size:17.5px" fill="#000000" textLength="146.6" lengthAdjust="spacingAndGlyphs" >Binding energy (eV)</text>
<path d="M293.5,60.0 294.1,60.0 294.8,60.0 295.4,60.0 296.1,60.0 296.7,60.0 297.4,59.9 298.0,59.9 298.6,59.9 299.3,59.9 299.9,59.9 300.6,59.9 301.2,59.9 301.9,59.9 302.5,59.9 303.1,59.9 303.8,59.9 304.4,59.9 305.1,59.9 305.7,59.8 306.4,59.8 307.0,59.8 307.6,59.8 308.3,59.8 308.9,59.8 309.6,59.8 310.2,59.8 310.9,59.8 311.5,59.8 312.1,59.8 312.8,59.7 313.4,59.7 314.1,59.7 314.7,59.7 315.4,59.7 316.0,59.7 316.6,59.7 317.3,59.7 317.9,59.7 318.6,59.7 319.2,59.6 319.9,59.6 320.5,59.6 321.1,59.6 321.8,59.6 322.4,59.6 323.1,59.6 323.7,59.6 324.4,59.5 325.0,59.5 325.6,59.5 326.3,59.5 326.9,59.5 327.6,59.5 328.2,59.5 328.9,59.4 329.5,59.4 330.1,59.4 330.8,59.4 331.4,59.4 332.1,59.4 332.7,59.3 333.4,59.3 334.0,59.3 334.6,59.3 335.3,59.3 335.9,59.3 336.6,59.2 337.2,59.2 337.9,59.2 338.5,59.2 339.1,59.1 339.8,59.1 340.4,59.1 341.1,59.1 341.7,59.1 342.4,59.0 343.0,59.0 343.6,59.0 344.3,59.0 344.9,58.9 345.6,58.9 346.2,58.9 346.9,58.8 347.5,58.8 348.1,58.8 348.8,58.7 349.4,58.7 350.1,58.7 350.7,58.6 351.4,58.6 352.0,58.6 352.6,58.5 353.3,58.5 353.9,58.4 354.6,58.4 355.2,58.4 355.9,58.3 356.5,58.3 357.1,58.2 357.8,58.1 358.4,58.1 359.1,58.0 359.7,58.0 360.4,57.9 361.0,57.8 361.6,57.8 362.3,57.7 362.9,57.6 363.6,57.5 364.2,57.4 364.9,57.4 365.5,57.3 366.1,57.2 366.8,57.0 367.4,56.9 368.1,56.8 368.7,56.7 369.4,56.6 370.0,56.4 370.6,56.3 371.3,56.1 371.9,56.0 372.6,55.8 373.2,55.6 373.9,55.4 374.5,55.2 375.1,55.0 375.8,54.8 376.4,54.6 377.1,54.3 377.7,54.1 378.4,53.8 379.0,53.5 379.6,53.2 380.3,52.9 380.9,52.6 381.6,52.2 382.2,51.9 382.9,51.5 383.5,51.1 384.1,50.7 384.8,50.3 385.4,49.9 386.1,49.4 386.7,48.9 387.4,48.4 388.0,47.9 388.6,47.4 389.3,46.9 389.9,46.3 390.6,45.7 391.2,45.1 391.8,44.5 392.5,43.9 393.1,43.2 393.8,42.5 394.4,41.8 395.1,41.1 395.7,40.4 396.3,39.7 397.0,38.9 397.6,38.2 398.3,37.4 398.9,36.6 399.6,35.8 400.2,35.0 400.8,34.2 401.5,33.4 402.1,32.6 402.8,31.7 403.4,30.9 404.1,30.1 404.7,29.3 405.3,28.4 406.0,27.6 406.6,26.8 407.3,26.0 407.9,25.3 408.6,24.5 409.2,23.8 409.8,23.1 410.5,22.4 411.1,21.7 411.8,21.1 412.4,20.5 413.1,20.0 413.7,19.5 414.3,19.0 415.0,18.6 415.6,18.3 416.3,18.0 416.9,17.7 417.6,17.6 418.2,17.4 418.8,17.4 419.5,17.4 420.1,17.4 420.8,17.5 421.4,17.7 422.1,18.0 422.7,18.3 423.3,18.7 424.0,19.1 424.6,19.6 425.3,20.1 425.9,20.7 426.6,21.3 427.2,22.0 427.8,22.7 428.5,23.4 429.1,24.2 429.8,25.0 430.4,25.9 431.1,26.7 431.7,27.6 432.3,28.5 433.0,29.4 433.6,30.3 434.3,31.2 434.9,32.1 435.6,33.0 436.2,33.9 436.8,34.9 437.5,35.8 438.1,36.7 438.8,37.6 439.4,38.5 440.1,39.3 440.7,40.2 441.3,41.0 442.0,41.9 442.6,42.7 443.3,43.5 443.9,44.3 444.6,45.0 445.2,45.8 445.8,46.5 446.5,47.2 447.1,47.9 447.8,48.6 448.4,49.2 449.1,49.8 449.7,50.4 450.3,51.0 451.0,51.6 451.6,52.1 452.3,52.7 452.9,53.2 453.6,53.7 454.2,54.1 454.8,54.6 455.5,55.0 456.1,55.4 456.8,55.8 457.4,56.2 458.1,56.5 458.7,56.9 459.3,57.2 460.0,57.5 460.6,57.8 461.3,58.1 461.9,58.4 462.6,58.6 463.2,58.9 463.8,59.1 464.5,59.3 465.1,59.5 465.8,59.7 466.4,59.9 467.1,60.1 467.7,60.3 468.3,60.4 469.0,60.6 469.6,60.7 470.3,60.8 470.9,61.0 471.6,61.1 472.2,61.2 472.8,61.3 473.5,61.4 474.1,61.5 474.8,61.6 475.4,61.7 476.1,61.8 476.7,61.9 477.3,62.0 478.0,62.0 478.6,62.1 479.3,62.2 479.9,62.2 480.6,62.3 481.2,62.3 481.8,62.4 482.5,62.5 483.1,62.5 483.8,62.6 484.4,62.6 485.1,62.6 485.7,62.7" fill="none" stroke="#3ddc3d" stroke-width="1.6" stroke-linejoin="round" stroke-linecap="round" />
<path d="M293.5,107.6 294.1,107.6 294.8,107.6 295.4,107.5 296.1,107.5 296.7,107.5 297.4,107.5 298.0,107.4 298.6,107.4 299.3,107.4 299.9,107.4 300.6,107.3 301.2,107.3 301.9,107.3 302.5,107.2 303.1,107.2 303.8,107.2 304.4,107.1 305.1,107.1 305.7,107.1 306.4,107.0 307.0,107.0 307.6,107.0 308.3,106.9 308.9,106.9 309.6,106.8 310.2,106.8 310.9,106.8 311.5,106.7 312.1,106.7 312.8,106.6 313.4,106.6 314.1,106.5 314.7,106.5 315.4,106.4 316.0,106.4 316.6,106.3 317.3,106.2 317.9,106.2 318.6,106.1 319.2,106.0 319.9,106.0 320.5,105.9 321.1,105.8 321.8,105.7 322.4,105.6 323.1,105.5 323.7,105.4 324.4,105.3 325.0,105.2 325.6,105.1 326.3,105.0 326.9,104.9 327.6,104.7 328.2,104.6 328.9,104.5 329.5,104.3 330.1,104.1 330.8,104.0 331.4,103.8 332.1,103.6 332.7,103.4 333.4,103.1 334.0,102.9 334.6,102.6 335.3,102.4 335.9,102.1 336.6,101.8 337.2,101.5 337.9,101.1 338.5,100.7 339.1,100.4 339.8,100.0 340.4,99.5 341.1,99.1 341.7,98.6 342.4,98.1 343.0,97.6 343.6,97.0 344.3,96.4 344.9,95.8 345.6,95.1 346.2,94.5 346.9,93.7 347.5,93.0 348.1,92.2 348.8,91.4 349.4,90.6 350.1,89.7 350.7,88.8 351.4,87.9 352.0,86.9 352.6,85.9 353.3,84.9 353.9,83.8 354.6,82.8 355.2,81.7 355.9,80.6 356.5,79.4 357.1,78.3 357.8,77.1 358.4,75.9 359.1,74.7 359.7,73.5 360.4,72.4 361.0,71.2 361.6,70.0 362.3,68.9 362.9,67.8 363.6,66.7 364.2,65.7 364.9,64.7 365.5,63.8 366.1,62.9 366.8,62.1 367.4,61.4 368.1,60.8 368.7,60.3 369.4,59.9 370.0,59.6 370.6,59.4 371.3,59.3 371.9,59.4 372.6,59.5 373.2,59.8 373.9,60.0 374.5,60.3 375.1,60.7 375.8,61.2 376.4,61.6 377.1,62.2 377.7,62.8 378.4,63.4 379.0,64.1 379.6,64.8 380.3,65.5 380.9,66.3 381.6,67.1 382.2,68.0 382.9,68.9 383.5,69.7 384.1,70.6 384.8,71.6 385.4,72.5 386.1,73.4 386.7,74.4 387.4,75.3 388.0,76.3 388.6,77.2 389.3,78.2 389.9,79.1 390.6,80.1 391.2,81.0 391.8,81.9 392.5,82.9 393.1,83.8 393.8,84.7 394.4,85.5 395.1,86.4 395.7,87.3 396.3,88.1 397.0,88.9 397.6,89.7 398.3,90.5 398.9,91.3 399.6,92.1 400.2,92.8 400.8,93.5 401.5,94.2 402.1,94.9 402.8,95.6 403.4,96.2 404.1,96.9 404.7,97.5 405.3,98.1 406.0,98.6 406.6,99.2 407.3,99.7 407.9,100.3 408.6,100.8 409.2,101.3 409.8,101.7 410.5,102.2 411.1,102.6 411.8,103.1 412.4,103.5 413.1,103.9 413.7,104.2 414.3,104.6 415.0,104.9 415.6,105.3 416.3,105.6 416.9,105.9 417.6,106.2 418.2,106.5 418.8,106.8 419.5,107.0 420.1,107.3 420.8,107.5 421.4,107.8 422.1,108.0 422.7,108.2 423.3,108.4 424.0,108.6 424.6,108.8 425.3,109.0 425.9,109.1 426.6,109.3 427.2,109.4 427.8,109.6 428.5,109.7 429.1,109.9 429.8,110.0 430.4,110.1 431.1,110.3 431.7,110.4 432.3,110.5 433.0,110.6 433.6,110.7 434.3,110.8 434.9,110.9 435.6,111.0 436.2,111.1 436.8,111.1 437.5,111.2 438.1,111.3 438.8,111.4 439.4,111.4 440.1,111.5 440.7,111.6 441.3,111.6 442.0,111.7 442.6,111.8 443.3,111.8 443.9,111.9 444.6,111.9 445.2,112.0 445.8,112.0 446.5,112.1 447.1,112.1 447.8,112.2 448.4,112.2 449.1,112.3 449.7,112.3 450.3,112.4 451.0,112.4 451.6,112.4 452.3,112.5 452.9,112.5 453.6,112.6 454.2,112.6 454.8,112.6 455.5,112.7 456.1,112.7 456.8,112.7 457.4,112.8 458.1,112.8 458.7,112.8 459.3,112.9 460.0,112.9 460.6,112.9 461.3,112.9 461.9,113.0 462.6,113.0 463.2,113.0 463.8,113.0 464.5,113.1 465.1,113.1 465.8,113.1 466.4,113.1 467.1,113.2 467.7,113.2 468.3,113.2 469.0,113.2 469.6,113.3 470.3,113.3 470.9,113.3 471.6,113.3 472.2,113.3 472.8,113.4 473.5,113.4 474.1,113.4 474.8,113.4 475.4,113.4 476.1,113.5 476.7,113.5 477.3,113.5 478.0,113.5 478.6,113.5 479.3,113.5 479.9,113.6 480.6,113.6 481.2,113.6 481.8,113.6 482.5,113.6 483.1,113.6 483.8,113.7 484.4,113.7 485.1,113.7 485.7,113.7" fill="none" stroke="#1c12b8" stroke-width="1.6" stroke-linejoin="round" stroke-linecap="round" />
<path d="M293.5,125.6 294.1,125.6 294.8,125.5 295.4,125.5 296.1,125.5 296.7,125.5 297.4,125.5 298.0,125.5 298.6,125.5 299.3,125.5 299.9,125.4 300.6,125.4 301.2,125.4 301.9,125.4 302.5,125.4 303.1,125.4 303.8,125.3 304.4,125.3 305.1,125.3 305.7,125.3 306.4,125.3 307.0,125.2 307.6,125.2 308.3,125.2 308.9,125.2 309.6,125.2 310.2,125.1 310.9,125.1 311.5,125.1 312.1,125.1 312.8,125.0 313.4,125.0 314.1,125.0 314.7,124.9 315.4,124.9 316.0,124.9 316.6,124.8 317.3,124.8 317.9,124.8 318.6,124.7 319.2,124.7 319.9,124.6 320.5,124.6 321.1,124.6 321.8,124.5 322.4,124.5 323.1,124.4 323.7,124.3 324.4,124.3 325.0,124.2 325.6,124.2 326.3,124.1 326.9,124.0 327.6,123.9 328.2,123.8 328.9,123.7 329.5,123.7 330.1,123.6 330.8,123.4 331.4,123.3 332.1,123.2 332.7,123.1 333.4,122.9 334.0,122.8 334.6,122.6 335.3,122.5 335.9,122.3 336.6,122.1 337.2,121.9 337.9,121.7 338.5,121.5 339.1,121.3 339.8,121.1 340.4,120.8 341.1,120.5 341.7,120.2 342.4,120.0 343.0,119.6 343.6,119.3 344.3,119.0 344.9,118.6 345.6,118.2 346.2,117.9 346.9,117.4 347.5,117.0 348.1,116.6 348.8,116.1 349.4,115.6 350.1,115.2 350.7,114.7 351.4,114.1 352.0,113.6 352.6,113.0 353.3,112.5 353.9,111.9 354.6,111.3 355.2,110.7 355.9,110.1 356.5,109.4 357.1,108.8 357.8,108.1 358.4,107.5 359.1,106.8 359.7,106.1 360.4,105.5 361.0,104.8 361.6,104.1 362.3,103.5 362.9,102.8 363.6,102.2 364.2,101.6 364.9,101.0 365.5,100.4 366.1,99.8 366.8,99.2 367.4,98.7 368.1,98.2 368.7,97.8 369.4,97.4 370.0,97.0 370.6,96.7 371.3,96.4 371.9,96.2 372.6,96.0 373.2,95.9 373.9,95.9 374.5,95.9 375.1,95.9 375.8,96.1 376.4,96.2 377.1,96.4 377.7,96.7 378.4,97.0 379.0,97.3 379.6,97.7 380.3,98.1 380.9,98.5 381.6,99.0 382.2,99.5 382.9,100.0 383.5,100.5 384.1,101.1 384.8,101.7 385.4,102.3 386.1,102.9 386.7,103.5 387.4,104.1 388.0,104.8 388.6,105.5 389.3,106.1 389.9,106.8 390.6,107.5 391.2,108.1 391.8,108.8 392.5,109.5 393.1,110.2 393.8,110.8 394.4,111.5 395.1,112.1 395.7,112.8 396.3,113.4 397.0,114.0 397.6,114.7 398.3,115.3 398.9,115.9 399.6,116.5 400.2,117.0 400.8,117.6 401.5,118.2 402.1,118.7 402.8,119.2 403.4,119.8 404.1,120.3 404.7,120.7 405.3,121.2 406.0,121.7 406.6,122.1 407.3,122.6 407.9,123.0 408.6,123.4 409.2,123.8 409.8,124.2 410.5,124.5 411.1,124.9 411.8,125.2 412.4,125.6 413.1,125.9 413.7,126.2 414.3,126.5 415.0,126.8 415.6,127.0 416.3,127.3 416.9,127.5 417.6,127.8 418.2,128.0 418.8,128.2 419.5,128.4 420.1,128.6 420.8,128.8 421.4,129.0 422.1,129.2 422.7,129.4 423.3,129.5 424.0,129.7 424.6,129.8 425.3,129.9 425.9,130.1 426.6,130.2 427.2,130.3 427.8,130.4 428.5,130.5 429.1,130.6 429.8,130.7 430.4,130.8 431.1,130.9 431.7,131.0 432.3,131.1 433.0,131.2 433.6,131.2 434.3,131.3 434.9,131.4 435.6,131.4 436.2,131.5 436.8,131.6 437.5,131.6 438.1,131.7 438.8,131.7 439.4,131.8 440.1,131.8 440.7,131.9 441.3,131.9 442.0,131.9 442.6,132.0 443.3,132.0 443.9,132.0 444.6,132.1 445.2,132.1 445.8,132.1 446.5,132.2 447.1,132.2 447.8,132.2 448.4,132.3 449.1,132.3 449.7,132.3 450.3,132.3 451.0,132.4 451.6,132.4 452.3,132.4 452.9,132.4 453.6,132.5 454.2,132.5 454.8,132.5 455.5,132.5 456.1,132.5 456.8,132.6 457.4,132.6 458.1,132.6 458.7,132.6 459.3,132.6 460.0,132.6 460.6,132.7 461.3,132.7 461.9,132.7 462.6,132.7 463.2,132.7 463.8,132.7 464.5,132.8 465.1,132.8 465.8,132.8 466.4,132.8 467.1,132.8 467.7,132.8 468.3,132.8 469.0,132.8 469.6,132.9 470.3,132.9 470.9,132.9 471.6,132.9 472.2,132.9 472.8,132.9 473.5,132.9 474.1,132.9 474.8,133.0 475.4,133.0 476.1,133.0 476.7,133.0 477.3,133.0 478.0,133.0 478.6,133.0 479.3,133.0 479.9,133.0 480.6,133.0 481.2,133.0 481.8,133.1 482.5,133.1 483.1,133.1 483.8,133.1 484.4,133.1 485.1,133.1 485.7,133.1" fill="none" stroke="#d8141e" stroke-width="1.6" stroke-linejoin="round" stroke-linecap="round" />
<path d="M293.5,157.6 294.1,157.6 294.8,157.6 295.4,157.6 296.1,157.6 296.7,157.6 297.4,157.5 298.0,157.5 298.6,157.5 299.3,157.5 299.9,157.5 300.6,157.5 301.2,157.5 301.9,157.5 302.5,157.4 303.1,157.4 303.8,157.4 304.4,157.4 305.1,157.4 305.7,157.4 306.4,157.4 307.0,157.4 307.6,157.3 308.3,157.3 308.9,157.3 309.6,157.3 310.2,157.3 310.9,157.3 311.5,157.2 312.1,157.2 312.8,157.2 313.4,157.2 314.1,157.2 314.7,157.2 315.4,157.1 316.0,157.1 316.6,157.1 317.3,157.1 317.9,157.1 318.6,157.0 319.2,157.0 319.9,157.0 320.5,157.0 321.1,156.9 321.8,156.9 322.4,156.9 323.1,156.9 323.7,156.8 324.4,156.8 325.0,156.8 325.6,156.8 326.3,156.7 326.9,156.7 327.6,156.7 328.2,156.6 328.9,156.6 329.5,156.5 330.1,156.5 330.8,156.5 331.4,156.4 332.1,156.4 332.7,156.3 333.4,156.3 334.0,156.2 334.6,156.2 335.3,156.1 335.9,156.1 336.6,156.0 337.2,155.9 337.9,155.9 338.5,155.8 339.1,155.7 339.8,155.6 340.4,155.6 341.1,155.5 341.7,155.4 342.4,155.3 343.0,155.2 343.6,155.1 344.3,155.0 344.9,154.9 345.6,154.7 346.2,154.6 346.9,154.5 347.5,154.3 348.1,154.2 348.8,154.0 349.4,153.9 350.1,153.7 350.7,153.5 351.4,153.3 352.0,153.1 352.6,152.9 353.3,152.7 353.9,152.5 354.6,152.2 355.2,152.0 355.9,151.7 356.5,151.5 357.1,151.2 357.8,150.9 358.4,150.6 359.1,150.3 359.7,150.0 360.4,149.6 361.0,149.3 361.6,148.9 362.3,148.5 362.9,148.1 363.6,147.7 364.2,147.3 364.9,146.9 365.5,146.5 366.1,146.0 366.8,145.6 367.4,145.1 368.1,144.6 368.7,144.1 369.4,143.6 370.0,143.1 370.6,142.6 371.3,142.0 371.9,141.5 372.6,140.9 373.2,140.4 373.9,139.8 374.5,139.2 375.1,138.6 375.8,138.1 376.4,137.5 377.1,136.9 377.7,136.3 378.4,135.7 379.0,135.1 379.6,134.6 380.3,134.0 380.9,133.4 381.6,132.8 382.2,132.3 382.9,131.8 383.5,131.2 384.1,130.7 384.8,130.2 385.4,129.7 386.1,129.3 386.7,128.9 387.4,128.5 388.0,128.1 388.6,127.7 389.3,127.4 389.9,127.1 390.6,126.9 391.2,126.7 391.8,126.5 392.5,126.4 393.1,126.3 393.8,126.2 394.4,126.2 395.1,126.3 395.7,126.3 396.3,126.5 397.0,126.6 397.6,126.8 398.3,127.1 398.9,127.3 399.6,127.6 400.2,128.0 400.8,128.3 401.5,128.7 402.1,129.1 402.8,129.6 403.4,130.1 404.1,130.6 404.7,131.1 405.3,131.6 406.0,132.2 406.6,132.7 407.3,133.3 407.9,133.9 408.6,134.5 409.2,135.1 409.8,135.7 410.5,136.4 411.1,137.0 411.8,137.6 412.4,138.3 413.1,138.9 413.7,139.6 414.3,140.2 415.0,140.8 415.6,141.5 416.3,142.1 416.9,142.7 417.6,143.3 418.2,143.9 418.8,144.5 419.5,145.1 420.1,145.7 420.8,146.3 421.4,146.9 422.1,147.4 422.7,148.0 423.3,148.5 424.0,149.0 424.6,149.5 425.3,150.0 425.9,150.5 426.6,151.0 427.2,151.5 427.8,152.0 428.5,152.4 429.1,152.8 429.8,153.3 430.4,153.7 431.1,154.1 431.7,154.5 432.3,154.8 433.0,155.2 433.6,155.5 434.3,155.9 434.9,156.2 435.6,156.5 436.2,156.8 436.8,157.1 437.5,157.4 438.1,157.7 438.8,158.0 439.4,158.2 440.1,158.5 440.7,158.7 441.3,158.9 442.0,159.2 442.6,159.4 443.3,159.6 443.9,159.8 444.6,160.0 445.2,160.1 445.8,160.3 446.5,160.5 447.1,160.6 447.8,160.8 448.4,160.9 449.1,161.1 449.7,161.2 450.3,161.3 451.0,161.5 451.6,161.6 452.3,161.7 452.9,161.8 453.6,161.9 454.2,162.0 454.8,162.1 455.5,162.2 456.1,162.2 456.8,162.3 457.4,162.4 458.1,162.5 458.7,162.5 459.3,162.6 460.0,162.7 460.6,162.7 461.3,162.8 461.9,162.9 462.6,162.9 463.2,163.0 463.8,163.0 464.5,163.1 465.1,163.1 465.8,163.1 466.4,163.2 467.1,163.2 467.7,163.3 468.3,163.3 469.0,163.3 469.6,163.4 470.3,163.4 470.9,163.4 471.6,163.5 472.2,163.5 472.8,163.5 473.5,163.6 474.1,163.6 474.8,163.6 475.4,163.6 476.1,163.7 476.7,163.7 477.3,163.7 478.0,163.7 478.6,163.8 479.3,163.8 479.9,163.8 480.6,163.8 481.2,163.8 481.8,163.9 482.5,163.9 483.1,163.9 483.8,163.9 484.4,163.9 485.1,164.0 485.7,164.0" fill="none" stroke="#000000" stroke-width="1.6" stroke-linejoin="round" stroke-linecap="round" />
<line x1="371.70" y1="31.00" x2="371.70" y2="122.00" stroke="#2036b0" stroke-width="1.8" stroke-dasharray="6.5,4.5"/>
<line x1="376.40" y1="64.00" x2="376.40" y2="133.00" stroke="#e03a3a" stroke-width="1.8" stroke-dasharray="6.5,4.5"/>
<line x1="397.00" y1="27.00" x2="397.00" y2="148.00" stroke="#222" stroke-width="1.8" stroke-dasharray="6.5,4.5"/>
<line x1="420.00" y1="17.00" x2="420.00" y2="72.50" stroke="#5ac85a" stroke-width="1.6" stroke-dasharray="6.5,4.5"/>
<line x1="396.80" y1="30.70" x2="378.00" y2="30.70" stroke="#1a1ad0" stroke-width="1.8"/>
<polygon points="372.00,30.70 379.00,27.45 379.00,33.95" fill="#1a1ad0"/>
<line x1="396.80" y1="63.30" x2="382.00" y2="63.30" stroke="#f08a20" stroke-width="1.8"/>
<polygon points="376.00,63.30 383.00,60.05 383.00,66.55" fill="#f08a20"/>
<line x1="396.80" y1="72.70" x2="414.50" y2="72.70" stroke="#7a2cc8" stroke-width="1.8"/>
<polygon points="420.50,72.70 413.50,75.95 413.50,69.45" fill="#7a2cc8"/>
<rect x="292.5" y="13.3" width="194.2" height="152.7" fill="none" stroke="#000" stroke-width="1.8"/>
<line x1="292.70" y1="166.00" x2="292.70" y2="162.00" stroke="#000000" stroke-width="1.4"/>
<line x1="347.70" y1="166.00" x2="347.70" y2="162.00" stroke="#000000" stroke-width="1.4"/>
<line x1="402.70" y1="166.00" x2="402.70" y2="162.00" stroke="#000000" stroke-width="1.4"/>
<line x1="457.70" y1="166.00" x2="457.70" y2="162.00" stroke="#000000" stroke-width="1.4"/>
<line x1="320.20" y1="166.00" x2="320.20" y2="163.50" stroke="#000000" stroke-width="1.4"/>
<line x1="375.20" y1="166.00" x2="375.20" y2="163.50" stroke="#000000" stroke-width="1.4"/>
<line x1="430.20" y1="166.00" x2="430.20" y2="163.50" stroke="#000000" stroke-width="1.4"/>
<text x="293.5" y="178.6" style="font-family:'Liberation Sans',sans-serif;font-weight:bold;font-size:10.4px" fill="#000000" text-anchor="middle" >1308</text>
<text x="348.5" y="178.6" style="font-family:'Liberation Sans',sans-serif;font-weight:bold;font-size:10.4px" fill="#000000" text-anchor="middle" >1306</text>
<text x="403.5" y="178.6" style="font-family:'Liberation Sans',sans-serif;font-weight:bold;font-size:10.4px" fill="#000000" text-anchor="middle" >1304</text>
<text x="458.5" y="178.6" style="font-family:'Liberation Sans',sans-serif;font-weight:bold;font-size:10.4px" fill="#000000" text-anchor="middle" >1302</text>
<text x="256.0" y="16.0" style="font-family:'Liberation Serif',serif;font-weight:bold;font-size:21.5px" fill="#000000" textLength="25.6" lengthAdjust="spacingAndGlyphs" >(b)</text>
<text x="297.4" y="29.1" style="font-family:'Liberation Serif',serif;font-weight:bold;font-size:13.5px" fill="#000000" textLength="33.8" lengthAdjust="spacingAndGlyphs" >Mg 1s</text>
<text x="369.0" y="22.5" style="font-family:'Liberation Serif',serif;font-weight:bold;font-size:11.5px" fill="#1a1ad0" textLength="33.6" lengthAdjust="spacingAndGlyphs" >+1.1eV</text>
<text x="372.5" y="56.0" style="font-family:'Liberation Serif',serif;font-weight:bold;font-size:11.5px" fill="#eea048" textLength="31.5" lengthAdjust="spacingAndGlyphs" >+0.9eV</text>
<text x="398.6" y="85.8" style="font-family:'Liberation Serif',serif;font-weight:bold;font-size:11.5px" fill="#7a2cc0" textLength="31.0" lengthAdjust="spacingAndGlyphs" >-0.8eV</text>
<text x="441.6" y="39.3" style="font-family:'Liberation Serif',serif;font-weight:bold;font-size:13px" fill="#33d633"><tspan textLength="35" lengthAdjust="spacingAndGlyphs">Wet N</tspan><tspan x="476.6" y="43.6" font-size="11">2</tspan></text>
<text x="452.4" y="104.0" style="font-family:'Liberation Serif',serif;font-weight:bold;font-size:12.5px" fill="#1a1ad0" textLength="16.6" lengthAdjust="spacingAndGlyphs" >Air</text>
<text x="433.9" y="126.3" style="font-family:'Liberation Serif',serif;font-weight:bold;font-size:13.5px" fill="#d8141e" textLength="46.9" lengthAdjust="spacingAndGlyphs" >Vacuum</text>
<text x="295.0" y="142.0" style="font-family:'Liberation Serif',serif;font-weight:bold;font-size:13.5px" fill="#000000" textLength="72.3" lengthAdjust="spacingAndGlyphs" >As-deposited</text>
<text x="273.2" y="148.6" style="font-family:'Liberation Serif',serif;font-weight:bold;font-size:19px" fill="#000000" textLength="115.5" lengthAdjust="spacingAndGlyphs" transform="rotate(-90 273.2 148.6)">Intensity (a.u.)</text>
<text x="316.2" y="196.0" style="font-family:'Liberation Serif',serif;font-weight:bold;font-size:18.5px" fill="#000000" textLength="154.8" lengthAdjust="spacingAndGlyphs" >Binding energy (eV)</text>
<line x1="294.50" y1="221.00" x2="484.80" y2="221.00" stroke="#000000" stroke-width="2"/>
<line x1="293.50" y1="367.80" x2="484.80" y2="367.80" stroke="#000000" stroke-width="2"/>
<line x1="294.50" y1="220.00" x2="294.50" y2="368.80" stroke="#22dede" stroke-width="2"/>
<line x1="484.80" y1="220.00" x2="484.80" y2="368.80" stroke="#ee8a2a" stroke-width="2"/>
<line x1="294.50" y1="368.00" x2="298.00" y2="368.00" stroke="#22dede" stroke-width="1.5"/>
<text x="289.4" y="371.5" style="font-family:'Liberation Sans',sans-serif;font-weight:bold;font-size:10.2px" fill="#2ccfcf" text-anchor="end" >1.4</text>
<line x1="294.50" y1="345.40" x2="298.00" y2="345.40" stroke="#22dede" stroke-width="1.5"/>
<text x="289.4" y="348.9" style="font-family:'Liberation Sans',sans-serif;font-weight:bold;font-size:10.2px" fill="#2ccfcf" text-anchor="end" >1.6</text>
<line x1="294.50" y1="322.80" x2="298.00" y2="322.80" stroke="#22dede" stroke-width="1.5"/>
<text x="289.4" y="326.3" style="font-family:'Liberation Sans',sans-serif;font-weight:bold;font-size:10.2px" fill="#2ccfcf" text-anchor="end" >1.8</text>
<line x1="294.50" y1="300.20" x2="298.00" y2="300.20" stroke="#22dede" stroke-width="1.5"/>
<text x="289.4" y="303.7" style="font-family:'Liberation Sans',sans-serif;font-weight:bold;font-size:10.2px" fill="#2ccfcf" text-anchor="end" >2.0</text>
<line x1="294.50" y1="277.60" x2="298.00" y2="277.60" stroke="#22dede" stroke-width="1.5"/>
<text x="289.4" y="281.1" style="font-family:'Liberation Sans',sans-serif;font-weight:bold;font-size:10.2px" fill="#2ccfcf" text-anchor="end" >2.2</text>
<line x1="294.50" y1="255.00" x2="298.00" y2="255.00" stroke="#22dede" stroke-width="1.5"/>
<text x="289.4" y="258.5" style="font-family:'Liberation Sans',sans-serif;font-weight:bold;font-size:10.2px" fill="#2ccfcf" text-anchor="end" >2.4</text>
<line x1="294.50" y1="232.40" x2="298.00" y2="232.40" stroke="#22dede" stroke-width="1.5"/>
<text x="289.4" y="235.9" style="font-family:'Liberation Sans',sans-serif;font-weight:bold;font-size:10.2px" fill="#2ccfcf" text-anchor="end" >2.6</text>
<line x1="294.50" y1="356.70" x2="296.70" y2="356.70" stroke="#22dede" stroke-width="1.5"/>
<line x1="294.50" y1="334.10" x2="296.70" y2="334.10" stroke="#22dede" stroke-width="1.5"/>
<line x1="294.50" y1="311.50" x2="296.70" y2="311.50" stroke="#22dede" stroke-width="1.5"/>
<line x1="294.50" y1="288.90" x2="296.70" y2="288.90" stroke="#22dede" stroke-width="1.5"/>
<line x1="294.50" y1="266.30" x2="296.70" y2="266.30" stroke="#22dede" stroke-width="1.5"/>
<line x1="294.50" y1="243.70" x2="296.70" y2="243.70" stroke="#22dede" stroke-width="1.5"/>
<line x1="484.80" y1="367.70" x2="481.30" y2="367.70" stroke="#ee8a2a" stroke-width="1.5"/>
<text x="488.8" y="370.7" style="font-family:'Liberation Sans',sans-serif;font-weight:bold;font-size:8.4px" fill="#dc8430" >1303</text>
<line x1="484.80" y1="318.70" x2="481.30" y2="318.70" stroke="#ee8a2a" stroke-width="1.5"/>
<text x="488.8" y="321.7" style="font-family:'Liberation Sans',sans-serif;font-weight:bold;font-size:8.4px" fill="#dc8430" >1304</text>
<line x1="484.80" y1="269.70" x2="481.30" y2="269.70" stroke="#ee8a2a" stroke-width="1.5"/>
<text x="488.8" y="272.7" style="font-family:'Liberation Sans',sans-serif;font-weight:bold;font-size:8.4px" fill="#dc8430" >1305</text>
<line x1="484.80" y1="220.70" x2="481.30" y2="220.70" stroke="#ee8a2a" stroke-width="1.5"/>
<text x="488.8" y="223.7" style="font-family:'Liberation Sans',sans-serif;font-weight:bold;font-size:8.4px" fill="#dc8430" >1306</text>
<line x1="484.80" y1="343.20" x2="482.60" y2="343.20" stroke="#ee8a2a" stroke-width="1.5"/>
<line x1="484.80" y1="294.20" x2="482.60" y2="294.20" stroke="#ee8a2a" stroke-width="1.5"/>
<line x1="484.80" y1="245.20" x2="482.60" y2="245.20" stroke="#ee8a2a" stroke-width="1.5"/>
<line x1="308.00" y1="367.80" x2="308.00" y2="363.80" stroke="#000000" stroke-width="1.5"/>
<line x1="362.00" y1="367.80" x2="362.00" y2="363.80" stroke="#000000" stroke-width="1.5"/>
<line x1="416.00" y1="367.80" x2="416.00" y2="363.80" stroke="#000000" stroke-width="1.5"/>
<line x1="470.80" y1="367.80" x2="470.80" y2="363.80" stroke="#000000" stroke-width="1.5"/>
<circle cx="307.3" cy="356.7" r="6.3" fill="url(#gc)"/>
<circle cx="307.3" cy="308.9" r="6.3" fill="url(#go)"/>
<circle cx="361.6" cy="322.8" r="6.3" fill="url(#gc)"/>
<circle cx="361.6" cy="256.0" r="6.3" fill="url(#go)"/>
<circle cx="416.0" cy="288.9" r="6.3" fill="url(#gc)"/>
<circle cx="416.0" cy="266.3" r="6.3" fill="url(#go)"/>
<circle cx="470.7" cy="232.4" r="6.3" fill="url(#gc)"/>
<circle cx="470.7" cy="348.1" r="6.3" fill="url(#go)"/>
<text x="263.5" y="208.6" style="font-family:'Liberation Serif',serif;font-weight:bold;font-size:21.5px" fill="#000000" textLength="23.0" lengthAdjust="spacingAndGlyphs" >(c)</text>
<text x="264.9" y="384.5" style="font-family:'Liberation Serif',serif;font-weight:bold;font-size:13px" fill="#000000" textLength="67.9" lengthAdjust="spacingAndGlyphs" >as-deposited</text>
<text x="353.0" y="384.5" style="font-family:'Liberation Serif',serif;font-weight:bold;font-size:12.5px" fill="#1a1ad0" textLength="17.0" lengthAdjust="spacingAndGlyphs" >Air</text>
<text x="395.4" y="384.8" style="font-family:'Liberation Serif',serif;font-weight:bold;font-size:13px" fill="#d42020" textLength="42.3" lengthAdjust="spacingAndGlyphs" >vacuum</text>
<text x="460.5" y="384.8" style="font-family:'Liberation Serif',serif;font-weight:bold;font-size:13px" fill="#33d633"><tspan textLength="32" lengthAdjust="spacingAndGlyphs">Wet N</tspan><tspan x="492.6" y="389.5" font-size="11">2</tspan></text>
<text x="0" y="0" style="font-family:'DejaVu Sans',sans-serif;font-size:27px" fill="#24dcd0" text-anchor="middle" transform="translate(261.8 297.3) rotate(-90)" textLength="13" lengthAdjust="spacingAndGlyphs">ε</text>
<text x="0" y="0" style="font-family:'Liberation Serif',serif;font-weight:bold;font-size:14px" fill="#e8923a" transform="translate(515.6 302.6) rotate(-90)" textLength="25.6" lengthAdjust="spacingAndGlyphs">(eV)</text>
<text x="0" y="0" style="font-family:'Liberation Serif',serif;font-weight:bold;font-size:19px" fill="#e8923a" transform="translate(515.2 320.2) rotate(-90)" textLength="13.8" lengthAdjust="spacingAndGlyphs">χ</text>
</svg>
</body></html>
